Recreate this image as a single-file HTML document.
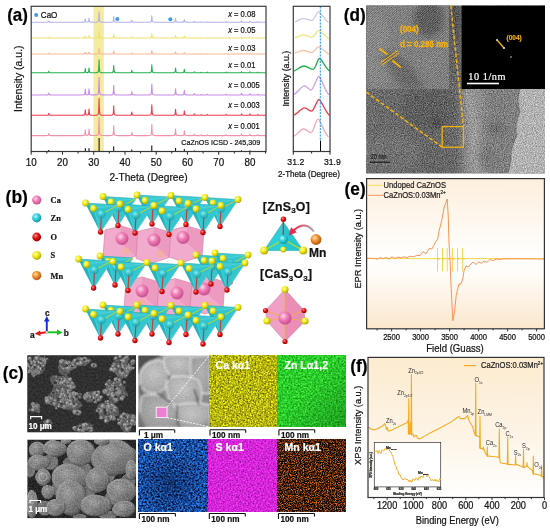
<!DOCTYPE html>
<html><head><meta charset="utf-8"><title>CaZnOS:Mn figure</title>
<style>html,body{margin:0;padding:0;background:#fff;}svg{display:block;} #w{width:550px;height:530px;}</style>
</head><body><div id="w">
<svg width="550" height="530" viewBox="0 0 550 530">
<rect width="550" height="530" fill="#fff"/>
<defs><radialGradient id="gS" cx="0.38" cy="0.35" r="0.7"><stop offset="0" stop-color="#ffffb0"/><stop offset="0.45" stop-color="#f0ec18"/><stop offset="1" stop-color="#a8a000"/></radialGradient><radialGradient id="gO" cx="0.38" cy="0.35" r="0.7"><stop offset="0" stop-color="#ff9090"/><stop offset="0.45" stop-color="#e81010"/><stop offset="1" stop-color="#900000"/></radialGradient><radialGradient id="gZn" cx="0.38" cy="0.35" r="0.7"><stop offset="0" stop-color="#b8f6fa"/><stop offset="0.45" stop-color="#2fd0dc"/><stop offset="1" stop-color="#10909c"/></radialGradient><radialGradient id="gCa" cx="0.38" cy="0.35" r="0.7"><stop offset="0" stop-color="#ffd8ea"/><stop offset="0.45" stop-color="#f07ab4"/><stop offset="1" stop-color="#c04a88"/></radialGradient><radialGradient id="gMn" cx="0.38" cy="0.35" r="0.7"><stop offset="0" stop-color="#ffe0b0"/><stop offset="0.45" stop-color="#f0902a"/><stop offset="1" stop-color="#a85010"/></radialGradient><linearGradient id="gArr" x1="1" y1="0" x2="0" y2="0"><stop offset="0" stop-color="#b0a0a8"/><stop offset="1" stop-color="#f02850"/></linearGradient><filter id="fCa" x="0" y="0" width="100%" height="100%" color-interpolation-filters="sRGB"><feTurbulence type="fractalNoise" baseFrequency="0.6" numOctaves="2" seed="3"/><feColorMatrix type="matrix" values="1.104 0 0 0 0.153 1.104 0 0 0 0.153 0.198 0 0 0 -0.047 0 0 0 0 1"/></filter><filter id="fZn" x="0" y="0" width="100%" height="100%" color-interpolation-filters="sRGB"><feTurbulence type="fractalNoise" baseFrequency="0.55" numOctaves="2" seed="5"/><feColorMatrix type="matrix" values="0.376 0 0 0 -0.016 0.675 0 0 0 0.462 0.376 0 0 0 -0.016 0 0 0 0 1"/></filter><filter id="fO" x="0" y="0" width="100%" height="100%" color-interpolation-filters="sRGB"><feTurbulence type="fractalNoise" baseFrequency="0.55" numOctaves="2" seed="7"/><feColorMatrix type="matrix" values="0.361 0 0 0 -0.086 1.046 0 0 0 -0.217 1.723 0 0 0 -0.236 0 0 0 0 1"/></filter><filter id="fS" x="0" y="0" width="100%" height="100%" color-interpolation-filters="sRGB"><feTurbulence type="fractalNoise" baseFrequency="0.6" numOctaves="2" seed="9"/><feColorMatrix type="matrix" values="0.708 0 0 0 0.478 0.298 0 0 0 0.000 0.648 0 0 0 0.522 0 0 0 0 1"/></filter><filter id="fMn" x="0" y="0" width="100%" height="100%" color-interpolation-filters="sRGB"><feTurbulence type="fractalNoise" baseFrequency="0.85" numOctaves="2" seed="11"/><feColorMatrix type="matrix" values="2.416 0 0 0 -0.914 1.274 0 0 0 -0.507 0.264 0 0 0 -0.108 0 0 0 0 1"/></filter><radialGradient id="gSem1" cx="0.4" cy="0.35" r="0.7"><stop offset="0" stop-color="#a8a8a8"/><stop offset="0.6" stop-color="#767676"/><stop offset="1" stop-color="#5a5a5a" stop-opacity="0.6"/></radialGradient><filter id="fSem" x="0" y="0" width="100%" height="100%" color-interpolation-filters="sRGB"><feTurbulence type="fractalNoise" baseFrequency="0.55" numOctaves="2" seed="21" result="n"/><feColorMatrix in="n" type="matrix" values="1 0 0 0 0 1 0 0 0 0 1 0 0 0 0 0 0 0 0 1" result="g"/><feComposite in="SourceGraphic" in2="g" operator="arithmetic" k1="0.9" k2="0.55" k3="0" k4="0"/></filter><filter id="fSem2" x="0" y="0" width="100%" height="100%" color-interpolation-filters="sRGB"><feTurbulence type="fractalNoise" baseFrequency="0.7" numOctaves="2" seed="23" result="n"/><feColorMatrix in="n" type="matrix" values="1 0 0 0 0 1 0 0 0 0 1 0 0 0 0 0 0 0 0 1" result="g"/><feComposite in="SourceGraphic" in2="g" operator="arithmetic" k1="0" k2="1" k3="0.25" k4="-0.125"/></filter><radialGradient id="gSem2" cx="0.5" cy="0.5" r="0.55" fx="0.35" fy="0.3"><stop offset="0" stop-color="#a2a2a2"/><stop offset="0.5" stop-color="#858585"/><stop offset="0.8" stop-color="#8e8e8e"/><stop offset="0.92" stop-color="#6a6a6a"/><stop offset="1" stop-color="#303030"/></radialGradient><radialGradient id="gSem3" cx="0.45" cy="0.4" r="0.7"><stop offset="0" stop-color="#cfcfcf"/><stop offset="0.8" stop-color="#a8a8a8"/><stop offset="1" stop-color="#7a7a7a"/></radialGradient><linearGradient id="ovZn" x1="0" y1="0" x2="1" y2="1"><stop offset="0.45" stop-color="#003000" stop-opacity="0"/><stop offset="1" stop-color="#003000" stop-opacity="0.3"/></linearGradient><radialGradient id="ovO" cx="0.45" cy="0.6" r="0.5"><stop offset="0" stop-color="#000820" stop-opacity="0.35"/><stop offset="1" stop-color="#000820" stop-opacity="0"/></radialGradient><radialGradient id="gSem2b" cx="0.5" cy="0.5" r="0.55" fx="0.4" fy="0.35"><stop offset="0" stop-color="#6a6a6a"/><stop offset="0.8" stop-color="#7a7a7a"/><stop offset="1" stop-color="#2a2a2a"/></radialGradient><linearGradient id="gShade" x1="0.2" y1="0.1" x2="0.9" y2="0.95"><stop offset="0" stop-color="#fff" stop-opacity="0.15"/><stop offset="0.45" stop-color="#000" stop-opacity="0"/><stop offset="1" stop-color="#000" stop-opacity="0.4"/></linearGradient><filter id="fBl1" x="-20%" y="-20%" width="140%" height="140%"><feGaussianBlur stdDeviation="0.8"/></filter><filter id="fSem3" x="0" y="0" width="100%" height="100%" color-interpolation-filters="sRGB"><feTurbulence type="fractalNoise" baseFrequency="0.7" numOctaves="2" seed="31" result="n"/><feColorMatrix in="n" type="matrix" values="1 0 0 0 0 1 0 0 0 0 1 0 0 0 0 0 0 0 0 1" result="g"/><feComposite in="SourceGraphic" in2="g" operator="arithmetic" k1="0" k2="1" k3="0.12" k4="-0.06"/></filter><radialGradient id="gS3a" cx="0.45" cy="0.4" r="0.65"><stop offset="0" stop-color="#c4c4c4"/><stop offset="0.75" stop-color="#ababab"/><stop offset="1" stop-color="#8e8e8e"/></radialGradient><radialGradient id="gS3b" cx="0.55" cy="0.45" r="0.7"><stop offset="0" stop-color="#b4b4b4"/><stop offset="0.75" stop-color="#9c9c9c"/><stop offset="1" stop-color="#828282"/></radialGradient><filter id="fBl3" x="-50%" y="-50%" width="200%" height="200%"><feGaussianBlur stdDeviation="3"/></filter><filter id="fTem" x="0" y="0" width="100%" height="100%" color-interpolation-filters="sRGB"><feTurbulence type="fractalNoise" baseFrequency="0.9" numOctaves="2" seed="4" result="n"/><feColorMatrix in="n" type="matrix" values="1 0 0 0 0 1 0 0 0 0 1 0 0 0 0 0 0 0 0 1" result="g"/><feComposite in="SourceGraphic" in2="g" operator="arithmetic" k1="0" k2="1" k3="0.55" k4="-0.275"/></filter><linearGradient id="gTemX" x1="0" y1="0" x2="1" y2="0"><stop offset="0" stop-color="#6c6c6c"/><stop offset="0.4" stop-color="#666666"/><stop offset="0.5" stop-color="#686868"/><stop offset="0.565" stop-color="#8a8a8a"/><stop offset="0.62" stop-color="#909090"/><stop offset="0.7" stop-color="#7e7e7e"/><stop offset="0.85" stop-color="#808080"/><stop offset="1" stop-color="#8a8a8a"/></linearGradient><linearGradient id="gTemStrip" x1="0" y1="0" x2="0" y2="1"><stop offset="0" stop-color="#505050"/><stop offset="0.5" stop-color="#5e5e5e"/><stop offset="1" stop-color="#6a6a6a"/></linearGradient><filter id="fTem2" x="0" y="0" width="100%" height="100%" color-interpolation-filters="sRGB"><feTurbulence type="fractalNoise" baseFrequency="0.8" numOctaves="2" seed="8" result="n"/><feColorMatrix in="n" type="matrix" values="1 0 0 0 0 1 0 0 0 0 1 0 0 0 0 0 0 0 0 1" result="g"/><feComposite in="SourceGraphic" in2="g" operator="arithmetic" k1="0" k2="1" k3="0.35" k4="-0.175"/></filter><pattern id="pFr" width="1.7" height="1.7" patternUnits="userSpaceOnUse" patternTransform="rotate(-42)"><rect width="1.7" height="0.85" fill="#404040"/><rect y="0.85" width="1.7" height="0.85" fill="#c0c0c0"/></pattern><linearGradient id="gEpr" x1="0" y1="0" x2="0" y2="1"><stop offset="0" stop-color="#fdefdc"/><stop offset="0.5" stop-color="#fffefc"/><stop offset="0.62" stop-color="#fffdfa"/><stop offset="1" stop-color="#fbe7cc"/></linearGradient><linearGradient id="gXps" x1="0" y1="0" x2="0" y2="1"><stop offset="0" stop-color="#fcebcf"/><stop offset="0.6" stop-color="#fdf5e8"/><stop offset="1" stop-color="#ffffff"/></linearGradient></defs>
<rect x="93.4" y="6.3" width="10.4" height="145.2" fill="#f6eaa0"/>
<path d="M31.2,22.2 33.7,22.2 36.2,22.2 38.7,22.2 41.2,22.2 43.7,22.2 46.2,22.2 47.2,22.2 47.4,22.2 47.7,22.1 48,22.1 48.2,22 48.5,21.6 48.7,21 49,21.6 49.2,22 49.5,22.1 49.7,22.1 50,22.2 50.2,22.2 51.2,22.2 53.7,22.2 56.2,22.2 58.7,22.2 61.2,22.2 63.7,22.2 66.2,22.2 68.7,22.2 71.2,22.2 73.7,22.2 76.2,22.2 78.7,22.2 81.2,22.2 83.7,22.1 83.8,22.1 84,22.1 84.3,22 84.5,21.8 84.8,21.5 85,20.5 85.3,18.8 85.5,20.5 85.8,21.5 86,21.8 86.2,21.9 86.3,22 86.5,22 86.8,22.1 87.5,22.1 87.8,22 88,21.9 88.3,21.8 88.5,21.4 88.7,20.7 88.8,20.3 89,18.4 89.3,20.3 89.5,21.4 89.8,21.8 90,22 90.3,22 90.5,22.1 91.2,22.1 93.7,22.2 96.2,22.1 97.6,21.9 97.8,21.8 98.1,21.6 98.3,21.1 98.6,20.1 98.7,19 98.8,16.9 99.1,11.7 99.3,16.9 99.6,20.1 99.8,21.1 100.1,21.6 100.3,21.8 100.6,21.9 101.2,22.1 103.7,22.2 106.2,22.2 108.7,22.2 111.2,22.1 112.2,22 112.5,22 112.7,21.8 112.9,21.6 113.2,21 113.5,19.3 113.7,16.3 113.9,19.3 114.2,21 114.5,21.6 114.7,21.8 114.9,22 115.2,22 116.2,22.1 118.7,22.2 121.2,22.2 123.7,22.2 126.2,22.2 128.7,22.2 130.3,22.1 130.6,22.1 130.8,22.1 131.1,22 131.2,21.9 131.3,21.8 131.6,21.2 131.8,20.2 132.1,21.2 132.3,21.8 132.6,22 132.8,22.1 133.1,22.1 133.3,22.1 133.7,22.2 136.2,22.2 138.7,22.2 141.2,22.2 143.7,22.2 146.2,22.2 148.7,22.2 150.3,22 150.6,21.9 150.8,21.8 151.1,21.5 151.2,21.3 151.3,20.9 151.6,18.9 151.8,15.7 152.1,18.9 152.3,20.9 152.6,21.5 152.8,21.8 153.1,21.9 153.3,22 153.7,22.1 156.2,22.2 158.7,22.2 161.2,22.2 163.7,22.2 166.2,22.2 168.7,22.2 171.2,22.2 173.7,22.1 174.1,22.1 174.3,22.1 174.6,22 174.8,21.8 175.1,21.4 175.3,20.3 175.6,18.4 175.8,20.3 176.1,21.4 176.2,21.7 176.3,21.8 176.6,22 176.8,22.1 177.1,22.1 178.7,22.2 181.2,22.2 182.8,22.1 183.1,22.1 183.3,22 183.6,21.9 183.7,21.8 183.8,21.6 184.1,20.8 184.3,19.5 184.6,20.8 184.8,21.6 185.1,21.9 185.3,22 185.6,22.1 185.8,22.1 186.2,22.1 188.7,22.2 191.2,22.2 192.8,22.2 193.1,22.2 193.3,22.1 193.6,22.1 193.7,22.1 193.8,22 194.1,21.8 194.3,21.4 194.6,21.8 194.8,22 195.1,22.1 195.3,22.1 195.6,22.2 195.8,22.2 196.2,22.2 198.7,22.2 199.7,22.2 199.9,22.2 200.2,22.2 200.4,22.2 200.7,22.1 200.9,22 201.2,21.8 201.4,22 201.7,22.1 201.9,22.2 202.2,22.2 202.4,22.2 202.7,22.2 203.7,22.2 205.9,22.2 206.2,22.2 206.4,22.2 206.7,22.1 206.9,22.1 207.2,21.9 207.5,21.7 207.7,21.9 207.9,22.1 208.2,22.1 208.4,22.2 208.7,22.2 208.9,22.2 211.2,22.2 213.7,22.2 216.2,22.2 218.7,22.2 221.2,22.2 223.7,22.2 224.7,22.2 224.9,22.2 225.2,22.2 225.4,22.1 225.7,22.1 225.9,21.9 226.2,21.7 226.4,21.9 226.7,22.1 226.9,22.1 227.2,22.2 227.4,22.2 227.7,22.2 228.7,22.2 231.2,22.2 233.7,22.2 236.2,22.2 238.7,22.2 240,22.2 240.3,22.2 240.5,22.1 240.8,22.1 241,22 241.2,21.8 241.3,21.7 241.5,21.3 241.8,21.7 242,22 242.3,22.1 242.5,22.1 242.8,22.2 243,22.2 243.7,22.2 246.2,22.2 248.4,22.2 248.7,22.2 249,22.1 249.2,22.1 249.4,22 249.7,21.8 249.9,21.4 250.2,21.8 250.4,22 250.7,22.1 250.9,22.1 251.2,22.2 251.4,22.2 253.7,22.2 256.2,22.2 256.3,22.2 256.5,22.2 256.8,22.2 257,22.1 257.3,22.1 257.5,21.9 257.8,21.7 258,21.9 258.3,22.1 258.5,22.1 258.7,22.2 258.8,22.2 259,22.2 259.3,22.2 261.2,22.2 263.7,22.2 265.6,22.2" fill="none" stroke="#b2b2ea" stroke-width="1.1" stroke-linejoin="round"/>
<path d="M31.2,38 33.7,38 36.2,38 38.7,38 41.2,38 43.7,38 46.2,38 47.2,38 47.4,38 47.7,38 48,37.9 48.2,37.8 48.5,37.6 48.7,37.2 49,37.6 49.2,37.8 49.5,37.9 49.7,38 50,38 50.2,38 51.2,38 53.7,38 56.2,38 58.7,38 61.2,38 63.7,38 66.2,38 68.7,38 71.2,38 73.7,38 76.2,38 78.7,38 81.2,38 83.7,37.9 83.8,37.9 84,37.9 84.3,37.9 84.5,37.8 84.8,37.5 85,36.9 85.3,35.7 85.5,36.9 85.8,37.5 86,37.8 86.2,37.8 86.3,37.8 86.5,37.9 86.8,37.9 87.5,37.9 87.8,37.9 88,37.8 88.3,37.7 88.5,37.5 88.7,37 88.8,36.7 89,35.5 89.3,36.7 89.5,37.5 89.8,37.7 90,37.8 90.3,37.9 90.5,37.9 91.2,38 93.7,38 96.2,37.9 97.6,37.8 97.8,37.7 98.1,37.6 98.3,37.3 98.6,36.6 98.7,35.8 98.8,34.5 99.1,31 99.3,34.5 99.6,36.6 99.8,37.3 100.1,37.6 100.3,37.7 100.6,37.8 101.2,37.9 103.7,38 106.2,38 108.7,38 111.2,38 112.2,37.9 112.5,37.8 112.7,37.8 112.9,37.6 113.2,37.2 113.5,36 113.7,34.1 113.9,36 114.2,37.2 114.5,37.6 114.7,37.8 114.9,37.8 115.2,37.9 116.2,38 118.7,38 121.2,38 123.7,38 126.2,38 128.7,38 130.3,38 130.6,37.9 130.8,37.9 131.1,37.9 131.2,37.8 131.3,37.7 131.6,37.3 131.8,36.7 132.1,37.3 132.3,37.7 132.6,37.9 132.8,37.9 133.1,37.9 133.3,38 133.7,38 136.2,38 138.7,38 141.2,38 143.7,38 146.2,38 148.7,38 150.3,37.9 150.6,37.8 150.8,37.7 151.1,37.6 151.2,37.4 151.3,37.1 151.6,35.8 151.8,33.7 152.1,35.8 152.3,37.1 152.6,37.6 152.8,37.7 153.1,37.8 153.3,37.9 153.7,37.9 156.2,38 158.7,38 161.2,38 163.7,38 166.2,38 168.7,38 171.2,38 173.7,38 174.1,37.9 174.3,37.9 174.6,37.8 174.8,37.7 175.1,37.5 175.3,36.7 175.6,35.5 175.8,36.7 176.1,37.5 176.2,37.6 176.3,37.7 176.6,37.8 176.8,37.9 177.1,37.9 178.7,38 181.2,38 182.8,37.9 183.1,37.9 183.3,37.9 183.6,37.8 183.7,37.7 183.8,37.6 184.1,37.1 184.3,36.2 184.6,37.1 184.8,37.6 185.1,37.8 185.3,37.9 185.6,37.9 185.8,37.9 186.2,38 188.7,38 191.2,38 192.8,38 193.1,38 193.3,38 193.6,37.9 193.7,37.9 193.8,37.9 194.1,37.7 194.3,37.4 194.6,37.7 194.8,37.9 195.1,37.9 195.3,38 195.6,38 195.8,38 196.2,38 198.7,38 199.7,38 199.9,38 200.2,38 200.4,38 200.7,37.9 200.9,37.9 201.2,37.7 201.4,37.9 201.7,37.9 201.9,38 202.2,38 202.4,38 202.7,38 203.7,38 205.9,38 206.2,38 206.4,38 206.7,38 206.9,37.9 207.2,37.8 207.5,37.6 207.7,37.8 207.9,37.9 208.2,38 208.4,38 208.7,38 208.9,38 211.2,38 213.7,38 216.2,38 218.7,38 221.2,38 223.7,38 224.7,38 224.9,38 225.2,38 225.4,38 225.7,37.9 225.9,37.8 226.2,37.6 226.4,37.8 226.7,37.9 226.9,38 227.2,38 227.4,38 227.7,38 228.7,38 231.2,38 233.7,38 236.2,38 238.7,38 240,38 240.3,38 240.5,38 240.8,37.9 241,37.9 241.2,37.8 241.3,37.7 241.5,37.4 241.8,37.7 242,37.9 242.3,37.9 242.5,38 242.8,38 243,38 243.7,38 246.2,38 248.4,38 248.7,38 249,38 249.2,37.9 249.4,37.9 249.7,37.7 249.9,37.4 250.2,37.7 250.4,37.9 250.7,37.9 250.9,38 251.2,38 251.4,38 253.7,38 256.2,38 256.3,38 256.5,38 256.8,38 257,38 257.3,37.9 257.5,37.8 257.8,37.6 258,37.8 258.3,37.9 258.5,38 258.7,38 258.8,38 259,38 259.3,38 261.2,38 263.7,38 265.6,38" fill="none" stroke="#ece46a" stroke-width="1.1" stroke-linejoin="round"/>
<path d="M31.2,54 33.7,54 36.2,54 38.7,54 41.2,54 43.7,54 46.2,54 47.2,54 47.4,54 47.7,54 48,53.9 48.2,53.9 48.5,53.7 48.7,53.4 49,53.7 49.2,53.9 49.5,53.9 49.7,54 50,54 50.2,54 51.2,54 53.7,54 56.2,54 58.7,54 61.2,54 63.7,54 66.2,54 68.7,54 71.2,54 73.7,54 76.2,54 78.7,54 81.2,54 83.7,53.9 83.8,53.9 84,53.9 84.3,53.9 84.5,53.8 84.8,53.6 85,53.1 85.3,52.2 85.5,53.1 85.8,53.6 86,53.8 86.2,53.9 86.3,53.9 86.5,53.9 86.8,53.9 87.5,53.9 87.8,53.9 88,53.9 88.3,53.8 88.5,53.6 88.7,53.2 88.8,53 89,52 89.3,53 89.5,53.6 89.8,53.8 90,53.9 90.3,53.9 90.5,53.9 91.2,54 93.7,54 96.2,54 97.6,53.8 97.8,53.8 98.1,53.7 98.3,53.4 98.6,52.9 98.7,52.3 98.8,51.2 99.1,48.5 99.3,51.2 99.6,52.9 99.8,53.4 100.1,53.7 100.3,53.8 100.6,53.8 101.2,53.9 103.7,54 106.2,54 108.7,54 111.2,54 112.2,53.9 112.5,53.9 112.7,53.8 112.9,53.7 113.2,53.4 113.5,52.5 113.7,50.9 113.9,52.5 114.2,53.4 114.5,53.7 114.7,53.8 114.9,53.9 115.2,53.9 116.2,54 118.7,54 121.2,54 123.7,54 126.2,54 128.7,54 130.3,54 130.6,54 130.8,53.9 131.1,53.9 131.2,53.9 131.3,53.8 131.6,53.5 131.8,53 132.1,53.5 132.3,53.8 132.6,53.9 132.8,53.9 133.1,54 133.3,54 133.7,54 136.2,54 138.7,54 141.2,54 143.7,54 146.2,54 148.7,54 150.3,53.9 150.6,53.9 150.8,53.8 151.1,53.7 151.2,53.5 151.3,53.3 151.6,52.3 151.8,50.6 152.1,52.3 152.3,53.3 152.6,53.7 152.8,53.8 153.1,53.9 153.3,53.9 153.7,53.9 156.2,54 158.7,54 161.2,54 163.7,54 166.2,54 168.7,54 171.2,54 173.7,54 174.1,53.9 174.3,53.9 174.6,53.9 174.8,53.8 175.1,53.6 175.3,53 175.6,52 175.8,53 176.1,53.6 176.2,53.7 176.3,53.8 176.6,53.9 176.8,53.9 177.1,53.9 178.7,54 181.2,54 182.8,54 183.1,53.9 183.3,53.9 183.6,53.9 183.7,53.8 183.8,53.7 184.1,53.3 184.3,52.6 184.6,53.3 184.8,53.7 185.1,53.9 185.3,53.9 185.6,53.9 185.8,54 186.2,54 188.7,54 191.2,54 192.8,54 193.1,54 193.3,54 193.6,54 193.7,53.9 193.8,53.9 194.1,53.8 194.3,53.6 194.6,53.8 194.8,53.9 195.1,54 195.3,54 195.6,54 195.8,54 196.2,54 198.7,54 199.7,54 199.9,54 200.2,54 200.4,54 200.7,54 200.9,53.9 201.2,53.8 201.4,53.9 201.7,54 201.9,54 202.2,54 202.4,54 202.7,54 203.7,54 205.9,54 206.2,54 206.4,54 206.7,54 206.9,53.9 207.2,53.9 207.5,53.7 207.7,53.9 207.9,53.9 208.2,54 208.4,54 208.7,54 208.9,54 211.2,54 213.7,54 216.2,54 218.7,54 221.2,54 223.7,54 224.7,54 224.9,54 225.2,54 225.4,54 225.7,53.9 225.9,53.9 226.2,53.7 226.4,53.9 226.7,53.9 226.9,54 227.2,54 227.4,54 227.7,54 228.7,54 231.2,54 233.7,54 236.2,54 238.7,54 240,54 240.3,54 240.5,54 240.8,53.9 241,53.9 241.2,53.8 241.3,53.8 241.5,53.5 241.8,53.8 242,53.9 242.3,53.9 242.5,54 242.8,54 243,54 243.7,54 246.2,54 248.4,54 248.7,54 249,54 249.2,54 249.4,53.9 249.7,53.8 249.9,53.6 250.2,53.8 250.4,53.9 250.7,54 250.9,54 251.2,54 251.4,54 253.7,54 256.2,54 256.3,54 256.5,54 256.8,54 257,54 257.3,53.9 257.5,53.9 257.8,53.7 258,53.9 258.3,53.9 258.5,54 258.7,54 258.8,54 259,54 259.3,54 261.2,54 263.7,54 265.6,54" fill="none" stroke="#f3b896" stroke-width="1.1" stroke-linejoin="round"/>
<path d="M31.2,72.8 33.7,72.8 36.2,72.8 38.7,72.8 41.2,72.8 43.7,72.8 46.2,72.8 47.2,72.8 47.4,72.7 47.7,72.7 48,72.7 48.2,72.5 48.5,72.1 48.7,71.4 49,72.1 49.2,72.5 49.5,72.7 49.7,72.7 50,72.7 50.2,72.8 51.2,72.8 53.7,72.8 56.2,72.8 58.7,72.8 61.2,72.8 63.7,72.8 66.2,72.8 68.7,72.8 71.2,72.8 73.7,72.8 76.2,72.8 78.7,72.8 81.2,72.8 83.7,72.7 83.8,72.7 84,72.6 84.3,72.5 84.5,72.4 84.8,71.9 85,70.7 85.3,68.6 85.5,70.7 85.8,71.9 86,72.3 86.2,72.5 86.3,72.5 86.5,72.6 86.8,72.6 87.5,72.6 87.8,72.6 88,72.5 88.3,72.3 88.5,71.8 88.7,70.9 88.8,70.4 89,68.1 89.3,70.4 89.5,71.8 89.8,72.3 90,72.5 90.3,72.6 90.5,72.7 91.2,72.7 93.7,72.8 96.2,72.7 97.6,72.4 97.8,72.3 98.1,72 98.3,71.5 98.6,70.2 98.7,68.8 98.8,66.3 99.1,59.8 99.3,66.3 99.6,70.2 99.8,71.5 100.1,72 100.3,72.3 100.6,72.4 101.2,72.6 103.7,72.8 106.2,72.8 108.7,72.8 111.2,72.7 112.2,72.6 112.5,72.5 112.7,72.4 112.9,72.1 113.2,71.3 113.5,69.2 113.7,65.5 113.9,69.2 114.2,71.3 114.5,72.1 114.7,72.4 114.9,72.5 115.2,72.6 116.2,72.7 118.7,72.8 121.2,72.8 123.7,72.8 126.2,72.8 128.7,72.8 130.3,72.7 130.6,72.7 130.8,72.7 131.1,72.5 131.2,72.5 131.3,72.3 131.6,71.6 131.8,70.3 132.1,71.6 132.3,72.3 132.6,72.5 132.8,72.7 133.1,72.7 133.3,72.7 133.7,72.8 136.2,72.8 138.7,72.8 141.2,72.8 143.7,72.8 146.2,72.8 148.7,72.7 150.3,72.6 150.6,72.5 150.8,72.3 151.1,72 151.2,71.7 151.3,71.2 151.6,68.8 151.8,64.7 152.1,68.8 152.3,71.2 152.6,72 152.8,72.3 153.1,72.5 153.3,72.6 153.7,72.7 156.2,72.8 158.7,72.8 161.2,72.8 163.7,72.8 166.2,72.8 168.7,72.8 171.2,72.8 173.7,72.7 174.1,72.7 174.3,72.6 174.6,72.5 174.8,72.3 175.1,71.9 175.3,70.5 175.6,68.1 175.8,70.5 176.1,71.9 176.2,72.1 176.3,72.3 176.6,72.5 176.8,72.6 177.1,72.7 178.7,72.8 181.2,72.8 182.8,72.7 183.1,72.7 183.3,72.6 183.6,72.5 183.7,72.3 183.8,72.1 184.1,71.1 184.3,69.4 184.6,71.1 184.8,72.1 185.1,72.5 185.3,72.6 185.6,72.7 185.8,72.7 186.2,72.7 188.7,72.8 191.2,72.8 192.8,72.8 193.1,72.8 193.3,72.7 193.6,72.7 193.7,72.7 193.8,72.6 194.1,72.3 194.3,71.8 194.6,72.3 194.8,72.6 195.1,72.7 195.3,72.7 195.6,72.8 195.8,72.8 196.2,72.8 198.7,72.8 199.7,72.8 199.9,72.8 200.2,72.8 200.4,72.7 200.7,72.7 200.9,72.5 201.2,72.3 201.4,72.5 201.7,72.7 201.9,72.7 202.2,72.8 202.4,72.8 202.7,72.8 203.7,72.8 205.9,72.8 206.2,72.8 206.4,72.8 206.7,72.7 206.9,72.7 207.2,72.5 207.5,72.1 207.7,72.5 207.9,72.7 208.2,72.7 208.4,72.8 208.7,72.8 208.9,72.8 211.2,72.8 213.7,72.8 216.2,72.8 218.7,72.8 221.2,72.8 223.7,72.8 224.7,72.8 224.9,72.8 225.2,72.8 225.4,72.7 225.7,72.7 225.9,72.5 226.2,72.1 226.4,72.5 226.7,72.7 226.9,72.7 227.2,72.8 227.4,72.8 227.7,72.8 228.7,72.8 231.2,72.8 233.7,72.8 236.2,72.8 238.7,72.8 240,72.8 240.3,72.8 240.5,72.7 240.8,72.7 241,72.6 241.2,72.3 241.3,72.2 241.5,71.6 241.8,72.2 242,72.6 242.3,72.7 242.5,72.7 242.8,72.8 243,72.8 243.7,72.8 246.2,72.8 248.4,72.8 248.7,72.8 249,72.7 249.2,72.7 249.4,72.6 249.7,72.3 249.9,71.8 250.2,72.3 250.4,72.6 250.7,72.7 250.9,72.7 251.2,72.8 251.4,72.8 253.7,72.8 256.2,72.8 256.3,72.8 256.5,72.8 256.8,72.8 257,72.7 257.3,72.7 257.5,72.5 257.8,72.1 258,72.5 258.3,72.7 258.5,72.7 258.7,72.8 258.8,72.8 259,72.8 259.3,72.8 261.2,72.8 263.7,72.8 265.6,72.8" fill="none" stroke="#22b04e" stroke-width="1.1" stroke-linejoin="round"/>
<path d="M31.2,95 33.7,95 36.2,95 38.7,95 41.2,95 43.7,95 46.2,95 47.2,94.9 47.4,94.9 47.7,94.9 48,94.8 48.2,94.6 48.5,94 48.7,93.1 49,94 49.2,94.6 49.5,94.8 49.7,94.9 50,94.9 50.2,94.9 51.2,95 53.7,95 56.2,95 58.7,95 61.2,95 63.7,95 66.2,95 68.7,95 71.2,95 73.7,95 76.2,95 78.7,95 81.2,95 83.7,94.8 83.8,94.8 84,94.8 84.3,94.6 84.5,94.4 84.8,93.9 85,92.2 85.3,89.4 85.5,92.2 85.8,93.8 86,94.4 86.2,94.6 86.3,94.6 86.5,94.7 86.8,94.8 87.5,94.8 87.8,94.7 88,94.6 88.3,94.3 88.5,93.7 88.7,92.5 88.8,91.8 89,88.7 89.3,91.8 89.5,93.7 89.8,94.3 90,94.6 90.3,94.7 90.5,94.8 91.2,94.9 93.7,94.9 96.2,94.9 97.6,94.5 97.8,94.3 98.1,94 98.3,93.2 98.6,91.5 98.7,89.6 98.8,86.2 99.1,77.5 99.3,86.2 99.6,91.5 99.8,93.2 100.1,94 100.3,94.3 100.6,94.5 101.2,94.8 103.7,94.9 106.2,95 108.7,95 111.2,94.9 112.2,94.7 112.5,94.6 112.7,94.4 112.9,94 113.2,93 113.5,90.1 113.7,85.2 113.9,90.1 114.2,93 114.5,94 114.7,94.4 114.9,94.6 115.2,94.7 116.2,94.9 118.7,95 121.2,95 123.7,95 126.2,95 128.7,95 130.3,94.9 130.6,94.9 130.8,94.8 131.1,94.7 131.2,94.5 131.3,94.3 131.6,93.3 131.8,91.7 132.1,93.3 132.3,94.3 132.6,94.7 132.8,94.8 133.1,94.9 133.3,94.9 133.7,94.9 136.2,95 138.7,95 141.2,95 143.7,95 146.2,95 148.7,94.9 150.3,94.7 150.6,94.6 150.8,94.4 151.1,93.9 151.2,93.5 151.3,92.8 151.6,89.6 151.8,84.1 152.1,89.6 152.3,92.8 152.6,93.9 152.8,94.4 153.1,94.6 153.3,94.7 153.7,94.8 156.2,95 158.7,95 161.2,95 163.7,95 166.2,95 168.7,95 171.2,95 173.7,94.9 174.1,94.8 174.3,94.8 174.6,94.6 174.8,94.4 175.1,93.7 175.3,91.8 175.6,88.7 175.8,91.8 176.1,93.7 176.2,94.1 176.3,94.4 176.6,94.6 176.8,94.8 177.1,94.8 178.7,94.9 181.2,95 182.8,94.9 183.1,94.8 183.3,94.7 183.6,94.5 183.7,94.4 183.8,94.1 184.1,92.7 184.3,90.4 184.6,92.7 184.8,94.1 185.1,94.5 185.3,94.7 185.6,94.8 185.8,94.9 186.2,94.9 188.7,95 191.2,95 192.8,95 193.1,94.9 193.3,94.9 193.6,94.9 193.7,94.8 193.8,94.7 194.1,94.3 194.3,93.6 194.6,94.3 194.8,94.7 195.1,94.9 195.3,94.9 195.6,94.9 195.8,95 196.2,95 198.7,95 199.7,95 199.9,95 200.2,95 200.4,94.9 200.7,94.9 200.9,94.6 201.2,94.3 201.4,94.6 201.7,94.9 201.9,94.9 202.2,95 202.4,95 202.7,95 203.7,95 205.9,95 206.2,95 206.4,94.9 206.7,94.9 206.9,94.8 207.2,94.6 207.5,94.1 207.7,94.6 207.9,94.8 208.2,94.9 208.4,94.9 208.7,95 208.9,95 211.2,95 213.7,95 216.2,95 218.7,95 221.2,95 223.7,95 224.7,95 224.9,95 225.2,94.9 225.4,94.9 225.7,94.8 225.9,94.6 226.2,94.1 226.4,94.6 226.7,94.8 226.9,94.9 227.2,94.9 227.4,95 227.7,95 228.7,95 231.2,95 233.7,95 236.2,95 238.7,95 240,95 240.3,94.9 240.5,94.9 240.8,94.8 241,94.7 241.2,94.4 241.3,94.2 241.5,93.4 241.8,94.2 242,94.7 242.3,94.8 242.5,94.9 242.8,94.9 243,95 243.7,95 246.2,95 248.4,95 248.7,94.9 249,94.9 249.2,94.9 249.4,94.7 249.7,94.3 249.9,93.6 250.2,94.3 250.4,94.7 250.7,94.9 250.9,94.9 251.2,94.9 251.4,95 253.7,95 256.2,95 256.3,95 256.5,95 256.8,94.9 257,94.9 257.3,94.8 257.5,94.6 257.8,94.1 258,94.6 258.3,94.8 258.5,94.9 258.7,94.9 258.8,94.9 259,95 259.3,95 261.2,95 263.7,95 265.6,95" fill="none" stroke="#c98ae8" stroke-width="1.1" stroke-linejoin="round"/>
<path d="M31.2,115.3 33.7,115.3 36.2,115.3 38.7,115.3 41.2,115.3 43.7,115.3 46.2,115.3 47.2,115.2 47.4,115.2 47.7,115.2 48,115.1 48.2,114.9 48.5,114.4 48.7,113.4 49,114.4 49.2,114.9 49.5,115.1 49.7,115.2 50,115.2 50.2,115.2 51.2,115.3 53.7,115.3 56.2,115.3 58.7,115.3 61.2,115.3 63.7,115.3 66.2,115.3 68.7,115.3 71.2,115.3 73.7,115.3 76.2,115.3 78.7,115.3 81.2,115.3 83.7,115.1 83.8,115.1 84,115.1 84.3,115 84.5,114.7 84.8,114.2 85,112.5 85.3,109.8 85.5,112.5 85.8,114.2 86,114.7 86.2,114.9 86.3,114.9 86.5,115 86.8,115.1 87.5,115.1 87.8,115 88,114.9 88.3,114.6 88.5,114 88.7,112.9 88.8,112.2 89,109.1 89.3,112.2 89.5,114 89.8,114.7 90,114.9 90.3,115 90.5,115.1 91.2,115.2 93.7,115.2 96.2,115.2 97.6,114.8 97.8,114.6 98.1,114.3 98.3,113.6 98.6,111.9 98.7,110.1 98.8,106.8 99.1,98.3 99.3,106.8 99.6,111.9 99.8,113.6 100.1,114.3 100.3,114.6 100.6,114.8 101.2,115.1 103.7,115.2 106.2,115.3 108.7,115.3 111.2,115.2 112.2,115 112.5,114.9 112.7,114.7 112.9,114.3 113.2,113.4 113.5,110.5 113.7,105.8 113.9,110.5 114.2,113.4 114.5,114.3 114.7,114.7 114.9,114.9 115.2,115 116.2,115.2 118.7,115.3 121.2,115.3 123.7,115.3 126.2,115.3 128.7,115.3 130.3,115.2 130.6,115.2 130.8,115.1 131.1,115 131.2,114.8 131.3,114.6 131.6,113.7 131.8,112.1 132.1,113.7 132.3,114.6 132.6,115 132.8,115.1 133.1,115.2 133.3,115.2 133.7,115.2 136.2,115.3 138.7,115.3 141.2,115.3 143.7,115.3 146.2,115.3 148.7,115.2 150.3,115 150.6,114.9 150.8,114.7 151.1,114.2 151.2,113.8 151.3,113.2 151.6,110 151.8,104.8 152.1,110 152.3,113.2 152.6,114.2 152.8,114.7 153.1,114.9 153.3,115 153.7,115.1 156.2,115.3 158.7,115.3 161.2,115.3 163.7,115.3 166.2,115.3 168.7,115.3 171.2,115.3 173.7,115.2 174.1,115.1 174.3,115.1 174.6,114.9 174.8,114.7 175.1,114.1 175.3,112.2 175.6,109.2 175.8,112.2 176.1,114.1 176.2,114.4 176.3,114.7 176.6,114.9 176.8,115.1 177.1,115.1 178.7,115.3 181.2,115.3 182.8,115.2 183.1,115.1 183.3,115 183.6,114.8 183.7,114.7 183.8,114.4 184.1,113.1 184.3,110.9 184.6,113.1 184.8,114.4 185.1,114.9 185.3,115 185.6,115.1 185.8,115.2 186.2,115.2 188.7,115.3 191.2,115.3 192.8,115.3 193.1,115.2 193.3,115.2 193.6,115.2 193.7,115.1 193.8,115 194.1,114.6 194.3,113.9 194.6,114.6 194.8,115 195.1,115.2 195.3,115.2 195.6,115.2 195.8,115.3 196.2,115.3 198.7,115.3 199.7,115.3 199.9,115.3 200.2,115.3 200.4,115.2 200.7,115.2 200.9,115 201.2,114.6 201.4,115 201.7,115.2 201.9,115.2 202.2,115.3 202.4,115.3 202.7,115.3 203.7,115.3 205.9,115.3 206.2,115.3 206.4,115.2 206.7,115.2 206.9,115.1 207.2,114.9 207.5,114.4 207.7,114.9 207.9,115.1 208.2,115.2 208.4,115.2 208.7,115.3 208.9,115.3 211.2,115.3 213.7,115.3 216.2,115.3 218.7,115.3 221.2,115.3 223.7,115.3 224.7,115.3 224.9,115.3 225.2,115.2 225.4,115.2 225.7,115.1 225.9,114.9 226.2,114.4 226.4,114.9 226.7,115.1 226.9,115.2 227.2,115.2 227.4,115.3 227.7,115.3 228.7,115.3 231.2,115.3 233.7,115.3 236.2,115.3 238.7,115.3 240,115.3 240.3,115.2 240.5,115.2 240.8,115.1 241,115 241.2,114.7 241.3,114.5 241.5,113.8 241.8,114.5 242,115 242.3,115.1 242.5,115.2 242.8,115.2 243,115.3 243.7,115.3 246.2,115.3 248.4,115.3 248.7,115.2 249,115.2 249.2,115.2 249.4,115 249.7,114.6 249.9,113.9 250.2,114.6 250.4,115 250.7,115.2 250.9,115.2 251.2,115.2 251.4,115.3 253.7,115.3 256.2,115.3 256.3,115.3 256.5,115.3 256.8,115.2 257,115.2 257.3,115.1 257.5,114.9 257.8,114.4 258,114.9 258.3,115.1 258.5,115.2 258.7,115.2 258.8,115.2 259,115.3 259.3,115.3 261.2,115.3 263.7,115.3 265.6,115.3" fill="none" stroke="#ee3b4c" stroke-width="1.1" stroke-linejoin="round"/>
<path d="M31.2,135.6 33.7,135.6 36.2,135.6 38.7,135.6 41.2,135.6 43.7,135.6 46.2,135.6 47.2,135.5 47.4,135.5 47.7,135.5 48,135.4 48.2,135.2 48.5,134.6 48.7,133.6 49,134.6 49.2,135.2 49.5,135.4 49.7,135.5 50,135.5 50.2,135.5 51.2,135.6 53.7,135.6 56.2,135.6 58.7,135.6 61.2,135.6 63.7,135.6 66.2,135.6 68.7,135.6 71.2,135.6 73.7,135.6 76.2,135.6 78.7,135.6 81.2,135.6 83.7,135.4 83.8,135.4 84,135.4 84.3,135.2 84.5,135 84.8,134.4 85,132.7 85.3,129.8 85.5,132.7 85.8,134.4 86,135 86.2,135.2 86.3,135.2 86.5,135.3 86.8,135.4 87.5,135.3 87.8,135.3 88,135.2 88.3,134.9 88.5,134.3 88.7,133 88.8,132.3 89,129.1 89.3,132.3 89.5,134.3 89.8,134.9 90,135.2 90.3,135.3 90.5,135.4 91.2,135.5 93.7,135.5 96.2,135.5 97.6,135.1 97.8,134.9 98.1,134.5 98.3,133.8 98.6,132 98.7,130.1 98.8,126.6 99.1,117.6 99.3,126.6 99.6,132 99.8,133.8 100.1,134.5 100.3,134.9 100.6,135.1 101.2,135.3 103.7,135.5 106.2,135.6 108.7,135.6 111.2,135.5 112.2,135.3 112.5,135.2 112.7,135 112.9,134.6 113.2,133.6 113.5,130.6 113.7,125.5 113.9,130.6 114.2,133.6 114.5,134.6 114.7,135 114.9,135.2 115.2,135.3 116.2,135.5 118.7,135.6 121.2,135.6 123.7,135.6 126.2,135.6 128.7,135.6 130.3,135.5 130.6,135.5 130.8,135.4 131.1,135.3 131.2,135.1 131.3,134.9 131.6,133.9 131.8,132.2 132.1,133.9 132.3,134.9 132.6,135.3 132.8,135.4 133.1,135.5 133.3,135.5 133.7,135.5 136.2,135.6 138.7,135.6 141.2,135.6 143.7,135.6 146.2,135.6 148.7,135.5 150.3,135.3 150.6,135.2 150.8,134.9 151.1,134.5 151.2,134.1 151.3,133.4 151.6,130 151.8,124.4 152.1,130 152.3,133.4 152.6,134.5 152.8,134.9 153.1,135.2 153.3,135.3 153.7,135.4 156.2,135.6 158.7,135.6 161.2,135.6 163.7,135.6 166.2,135.6 168.7,135.6 171.2,135.6 173.7,135.5 174.1,135.4 174.3,135.3 174.6,135.2 174.8,134.9 175.1,134.3 175.3,132.4 175.6,129.1 175.8,132.4 176.1,134.3 176.2,134.7 176.3,134.9 176.6,135.2 176.8,135.3 177.1,135.4 178.7,135.5 181.2,135.6 182.8,135.5 183.1,135.4 183.3,135.3 183.6,135.1 183.7,134.9 183.8,134.7 184.1,133.3 184.3,130.9 184.6,133.3 184.8,134.7 185.1,135.1 185.3,135.3 185.6,135.4 185.8,135.5 186.2,135.5 188.7,135.6 191.2,135.6 192.8,135.6 193.1,135.5 193.3,135.5 193.6,135.4 193.7,135.4 193.8,135.3 194.1,134.9 194.3,134.2 194.6,134.9 194.8,135.3 195.1,135.4 195.3,135.5 195.6,135.5 195.8,135.6 196.2,135.6 198.7,135.6 199.7,135.6 199.9,135.6 200.2,135.6 200.4,135.5 200.7,135.5 200.9,135.2 201.2,134.9 201.4,135.2 201.7,135.5 201.9,135.5 202.2,135.6 202.4,135.6 202.7,135.6 203.7,135.6 205.9,135.6 206.2,135.6 206.4,135.5 206.7,135.5 206.9,135.4 207.2,135.1 207.5,134.7 207.7,135.1 207.9,135.4 208.2,135.5 208.4,135.5 208.7,135.6 208.9,135.6 211.2,135.6 213.7,135.6 216.2,135.6 218.7,135.6 221.2,135.6 223.7,135.6 224.7,135.6 224.9,135.6 225.2,135.5 225.4,135.5 225.7,135.4 225.9,135.1 226.2,134.7 226.4,135.1 226.7,135.4 226.9,135.5 227.2,135.5 227.4,135.6 227.7,135.6 228.7,135.6 231.2,135.6 233.7,135.6 236.2,135.6 238.7,135.6 240,135.6 240.3,135.5 240.5,135.5 240.8,135.4 241,135.3 241.2,135 241.3,134.8 241.5,134 241.8,134.8 242,135.3 242.3,135.4 242.5,135.5 242.8,135.5 243,135.6 243.7,135.6 246.2,135.6 248.4,135.6 248.7,135.5 249,135.5 249.2,135.5 249.4,135.3 249.7,134.9 249.9,134.2 250.2,134.9 250.4,135.3 250.7,135.5 250.9,135.5 251.2,135.5 251.4,135.6 253.7,135.6 256.2,135.6 256.3,135.6 256.5,135.6 256.8,135.5 257,135.5 257.3,135.4 257.5,135.1 257.8,134.7 258,135.1 258.3,135.4 258.5,135.5 258.7,135.5 258.8,135.5 259,135.6 259.3,135.6 261.2,135.6 263.7,135.6 265.6,135.6" fill="none" stroke="#f391aa" stroke-width="1.1" stroke-linejoin="round"/>
<path d="M48.7,151.5V150M85.3,151.5V148.2M89,151.5V148.2M99.1,151.5V138M113.7,151.5V146.3M131.8,151.5V149.5M151.8,151.5V145.5M175.6,151.5V148M184.3,151.5V149M194.3,151.5V150.5M241.5,151.5V150.3M249.9,151.5V150.5" stroke="#000" stroke-width="1"/>
<rect x="31.2" y="6.3" width="234.8" height="145.2" fill="none" stroke="#3a3a3a" stroke-width="1.2"/>
<path d="M31.2,151.5v3.2M46.8,151.5v2M62.5,151.5v3.2M78.1,151.5v2M93.7,151.5v3.2M109.3,151.5v2M125,151.5v3.2M140.6,151.5v2M156.2,151.5v3.2M171.8,151.5v2M187.4,151.5v3.2M203.1,151.5v2M218.7,151.5v3.2M234.3,151.5v2M249.9,151.5v3.2M265.6,151.5v2" stroke="#222" stroke-width="1"/>
<text x="31.2" y="166.1" text-anchor="middle" style="font-family:'Liberation Sans',Arial,sans-serif;font-size:9.8px" fill="#111" stroke="#111" stroke-width="0.2" transform="matrix(1,0,0,1.1,0,-16.61)">10</text>
<text x="62.5" y="166.1" text-anchor="middle" style="font-family:'Liberation Sans',Arial,sans-serif;font-size:9.8px" fill="#111" stroke="#111" stroke-width="0.2" transform="matrix(1,0,0,1.1,0,-16.61)">20</text>
<text x="93.7" y="166.1" text-anchor="middle" style="font-family:'Liberation Sans',Arial,sans-serif;font-size:9.8px" fill="#111" stroke="#111" stroke-width="0.2" transform="matrix(1,0,0,1.1,0,-16.61)">30</text>
<text x="125" y="166.1" text-anchor="middle" style="font-family:'Liberation Sans',Arial,sans-serif;font-size:9.8px" fill="#111" stroke="#111" stroke-width="0.2" transform="matrix(1,0,0,1.1,0,-16.61)">40</text>
<text x="156.2" y="166.1" text-anchor="middle" style="font-family:'Liberation Sans',Arial,sans-serif;font-size:9.8px" fill="#111" stroke="#111" stroke-width="0.2" transform="matrix(1,0,0,1.1,0,-16.61)">50</text>
<text x="187.4" y="166.1" text-anchor="middle" style="font-family:'Liberation Sans',Arial,sans-serif;font-size:9.8px" fill="#111" stroke="#111" stroke-width="0.2" transform="matrix(1,0,0,1.1,0,-16.61)">60</text>
<text x="218.7" y="166.1" text-anchor="middle" style="font-family:'Liberation Sans',Arial,sans-serif;font-size:9.8px" fill="#111" stroke="#111" stroke-width="0.2" transform="matrix(1,0,0,1.1,0,-16.61)">70</text>
<text x="249.9" y="166.1" text-anchor="middle" style="font-family:'Liberation Sans',Arial,sans-serif;font-size:9.8px" fill="#111" stroke="#111" stroke-width="0.2" transform="matrix(1,0,0,1.1,0,-16.61)">80</text>
<text x="148.5" y="180.8" text-anchor="middle" style="font-family:'Liberation Sans',Arial,sans-serif;font-size:10.2px" fill="#111" stroke="#111" stroke-width="0.2" transform="matrix(1,0,0,1.1,0,-18.08)">2-Theta (Degree)</text>
<text transform="translate(21.9,78.7) rotate(-90)" text-anchor="middle" style="font-family:'Liberation Sans',Arial,sans-serif;font-size:10.5px" fill="#111" stroke="#111" stroke-width="0.2">Intensity (a.u.)</text>
<text x="7.2" y="21" style="font-family:'Liberation Sans',Arial,sans-serif;font-size:17px;font-weight:bold" fill="#000" stroke="#000" stroke-width="0.2" transform="matrix(1,0,0,1.1,0,-2.10)">(a)</text>
<circle cx="36.2" cy="15.1" r="2" fill="#3d9ae8"/>
<text x="40.8" y="18.4" style="font-family:'Liberation Sans',Arial,sans-serif;font-size:8.1px" fill="#111" stroke="#111" stroke-width="0.2" transform="matrix(1,0,0,1.1,0,-1.84)">CaO</text>
<circle cx="117.3" cy="18.9" r="2" fill="#3d9ae8"/>
<circle cx="170.3" cy="19.2" r="2" fill="#3d9ae8"/>
<text x="228.2" y="17.5" style="font-family:'Liberation Sans',Arial,sans-serif;font-size:7.6px" fill="#111" stroke="#111" stroke-width="0.2" transform="matrix(1,0,0,1.1,0,-1.75)"><tspan font-style="italic">x</tspan> = 0.08</text>
<text x="228.2" y="33.3" style="font-family:'Liberation Sans',Arial,sans-serif;font-size:7.6px" fill="#111" stroke="#111" stroke-width="0.2" transform="matrix(1,0,0,1.1,0,-3.33)"><tspan font-style="italic">x</tspan> = 0.05</text>
<text x="228.2" y="50.7" style="font-family:'Liberation Sans',Arial,sans-serif;font-size:7.6px" fill="#111" stroke="#111" stroke-width="0.2" transform="matrix(1,0,0,1.1,0,-5.07)"><tspan font-style="italic">x</tspan> = 0.03</text>
<text x="228.2" y="68.3" style="font-family:'Liberation Sans',Arial,sans-serif;font-size:7.6px" fill="#111" stroke="#111" stroke-width="0.2" transform="matrix(1,0,0,1.1,0,-6.83)"><tspan font-style="italic">x</tspan> = 0.01</text>
<text x="228.2" y="88.5" style="font-family:'Liberation Sans',Arial,sans-serif;font-size:7.6px" fill="#111" stroke="#111" stroke-width="0.2" transform="matrix(1,0,0,1.1,0,-8.85)"><tspan font-style="italic">x</tspan> = 0.005</text>
<text x="228.2" y="108.2" style="font-family:'Liberation Sans',Arial,sans-serif;font-size:7.6px" fill="#111" stroke="#111" stroke-width="0.2" transform="matrix(1,0,0,1.1,0,-10.82)"><tspan font-style="italic">x</tspan> = 0.003</text>
<text x="228.2" y="129" style="font-family:'Liberation Sans',Arial,sans-serif;font-size:7.6px" fill="#111" stroke="#111" stroke-width="0.2" transform="matrix(1,0,0,1.1,0,-12.90)"><tspan font-style="italic">x</tspan> = 0.001</text>
<text x="260.2" y="145.5" text-anchor="end" style="font-family:'Liberation Sans',Arial,sans-serif;font-size:7.15px" fill="#111" stroke="#111" stroke-width="0.2" transform="matrix(1,0,0,1.1,0,-14.55)">CaZnOS ICSD - 245,309</text>
<path d="M295,21.9 C298,20.9 300,18.7 303,18.7 S309.5,20.4 312,20.4 S316.5,11.8 318.5,11.8 S324.5,19.6 328.5,22.6" fill="none" stroke="#c9c9e2" stroke-width="1.3"/>
<path d="M295,37.7 C298,36.7 300,35.1 303,35.1 S309.5,37.1 312,37.1 S316.5,30.6 318.5,30.6 S325,35.9 329,38.9" fill="none" stroke="#eee77a" stroke-width="1.3"/>
<path d="M295,53.3 C298,52.3 300,50.5 303,50.5 S309.5,52.5 312,52.5 S316.3,46.8 318.3,46.8 S325,51.3 329,54.3" fill="none" stroke="#f5c4a4" stroke-width="1.3"/>
<path d="M294,71 C297,70 301,66 304,66 S310.5,69.4 313,69.4 S317.5,58.5 319.5,58.5 S325.5,68 329.5,71" fill="none" stroke="#22b04e" stroke-width="1.3"/>
<path d="M294,94.3 C297,93.3 301.5,85.9 304.5,85.9 S308.5,90.1 311,90.1 S316.8,76.5 318.8,76.5 S325,91.6 329,94.6" fill="none" stroke="#cf9ee8" stroke-width="1.3"/>
<path d="M294,115 C297,114 301.5,107.9 304.5,107.9 S309,111.2 311.5,111.2 S317,99.5 319,99.5 S325.5,112.5 329.5,115.5" fill="none" stroke="#ee3b4c" stroke-width="1.3"/>
<path d="M294,136.1 C297,135.1 300.5,129 303.5,129 S308.5,132.7 311,132.7 S316,118.8 318,118.8 S324.5,133.9 328.5,136.9" fill="none" stroke="#f4a8b8" stroke-width="1.3"/>
<path d="M320.5,151.5V140.7" stroke="#000" stroke-width="1"/>
<path d="M320.3,6.5V141" stroke="#1f8ff0" stroke-width="1" stroke-dasharray="2,1.2"/>
<rect x="293.3" y="6.3" width="36.7" height="145.2" fill="none" stroke="#3a3a3a" stroke-width="1.2"/>
<path d="M293.3,151.5v3.2M311.6,151.5v2M330,151.5v3.2" stroke="#222" stroke-width="1"/>
<text x="295.8" y="164.8" text-anchor="middle" style="font-family:'Liberation Sans',Arial,sans-serif;font-size:8.7px" fill="#111" stroke="#111" stroke-width="0.2" transform="matrix(1,0,0,1.1,0,-16.48)">31.2</text>
<text x="332.4" y="164.8" text-anchor="middle" style="font-family:'Liberation Sans',Arial,sans-serif;font-size:8.7px" fill="#111" stroke="#111" stroke-width="0.2" transform="matrix(1,0,0,1.1,0,-16.48)">31.9</text>
<text x="309" y="177.4" text-anchor="middle" style="font-family:'Liberation Sans',Arial,sans-serif;font-size:8.1px" fill="#111" stroke="#111" stroke-width="0.2" transform="matrix(1,0,0,1.1,0,-17.74)">2-Theta (Degree)</text>
<text transform="translate(288.9,78.7) rotate(-90)" text-anchor="middle" style="font-family:'Liberation Sans',Arial,sans-serif;font-size:8.8px" fill="#111" stroke="#111" stroke-width="0.2">Intensity (a.u.)</text>
<text x="5.6" y="203.2" style="font-family:'Liberation Sans',Arial,sans-serif;font-size:17.5px;font-weight:bold" fill="#000" stroke="#000" stroke-width="0.2" transform="matrix(1,0,0,1.1,0,-20.32)">(b)</text>
<circle cx="36.7" cy="200" r="4.6" fill="url(#gCa)"/>
<text x="50.6" y="203" style="font-family:'Liberation Serif','Times New Roman',serif;font-size:8.4px;font-weight:bold" fill="#111" stroke="#111" stroke-width="0.2" transform="matrix(1,0,0,1.1,0,-20.30)">Ca</text>
<circle cx="36.7" cy="217.8" r="4.6" fill="url(#gZn)"/>
<text x="50.6" y="220.8" style="font-family:'Liberation Serif','Times New Roman',serif;font-size:8.4px;font-weight:bold" fill="#111" stroke="#111" stroke-width="0.2" transform="matrix(1,0,0,1.1,0,-22.08)">Zn</text>
<circle cx="36.7" cy="237" r="4.4" fill="url(#gO)"/>
<text x="50.6" y="240" style="font-family:'Liberation Serif','Times New Roman',serif;font-size:8.4px;font-weight:bold" fill="#111" stroke="#111" stroke-width="0.2" transform="matrix(1,0,0,1.1,0,-24.00)">O</text>
<circle cx="36.7" cy="255.4" r="4.5" fill="url(#gS)"/>
<text x="50.6" y="258.4" style="font-family:'Liberation Serif','Times New Roman',serif;font-size:8.4px;font-weight:bold" fill="#111" stroke="#111" stroke-width="0.2" transform="matrix(1,0,0,1.1,0,-25.84)">S</text>
<circle cx="36.7" cy="275.6" r="4.6" fill="url(#gMn)"/>
<text x="50.6" y="278.6" style="font-family:'Liberation Serif','Times New Roman',serif;font-size:8.4px;font-weight:bold" fill="#111" stroke="#111" stroke-width="0.2" transform="matrix(1,0,0,1.1,0,-27.86)">Mn</text>
<path d="M46.8,332.3V320" stroke="#1428e8" stroke-width="1.9"/><path d="M44,321.5L46.8,316L49.6,321.5Z" fill="#1428e8"/>
<path d="M46.8,332.3L39,333.2" stroke="#e01818" stroke-width="1.9"/><path d="M40.2,330.6L34.6,333.7L40.6,336Z" fill="#e01818"/>
<path d="M46.8,332.3H58" stroke="#18c018" stroke-width="1.9"/><path d="M57,329.6L62.6,332.4L57,335.2Z" fill="#18c018"/>
<circle cx="46.8" cy="332.3" r="1.2" fill="#ccc"/>
<text x="47.3" y="315.6" text-anchor="middle" style="font-family:'Liberation Sans',Arial,sans-serif;font-size:8.4px;font-weight:bold" fill="#111" stroke="#111" stroke-width="0.2" transform="matrix(1,0,0,1.1,0,-31.56)">c</text>
<text x="32.3" y="337.6" text-anchor="middle" style="font-family:'Liberation Sans',Arial,sans-serif;font-size:8.4px;font-weight:bold" fill="#111" stroke="#111" stroke-width="0.2" transform="matrix(1,0,0,1.1,0,-33.76)">a</text>
<text x="66.4" y="336.4" text-anchor="middle" style="font-family:'Liberation Sans',Arial,sans-serif;font-size:8.4px;font-weight:bold" fill="#111" stroke="#111" stroke-width="0.2" transform="matrix(1,0,0,1.1,0,-33.64)">b</text>
<polygon points="105,230 121.2,226 138,231 136,256 117.8,262 103,257" fill="#f0a2c6" fill-opacity="0.9" stroke="#d485a8" stroke-width="0.7"/><polygon points="121.2,226 138,231 136,256 119.5,242.2" fill="#e98fb6" fill-opacity="0.6"/><polygon points="138,231.5 154.2,227.5 171,232.5 169,257.5 150.8,263.5 136,258.5" fill="#f0a2c6" fill-opacity="0.9" stroke="#d485a8" stroke-width="0.7"/><polygon points="154.2,227.5 171,232.5 169,257.5 152.5,243.7" fill="#e98fb6" fill-opacity="0.6"/><polygon points="171,230 187.2,226 204,231 202,256 183.8,262 169,257" fill="#f0a2c6" fill-opacity="0.9" stroke="#d485a8" stroke-width="0.7"/><polygon points="187.2,226 204,231 202,256 185.5,242.2" fill="#e98fb6" fill-opacity="0.6"/>
<circle cx="122" cy="238.5" r="6.5" fill="url(#gCa)"/><circle cx="154" cy="240" r="6.5" fill="url(#gCa)"/><circle cx="183" cy="237.5" r="6.5" fill="url(#gCa)"/>
<circle cx="126" cy="251" r="3.6" fill="#f4b090" opacity="0.7"/><circle cx="160" cy="254" r="3.6" fill="#f4b090" opacity="0.7"/>
<polygon points="126,281 142.2,277 159,282 157,308 138.8,314 124,309" fill="#f0a2c6" fill-opacity="0.9" stroke="#d485a8" stroke-width="0.7"/><polygon points="142.2,277 159,282 157,308 140.5,293.6" fill="#e98fb6" fill-opacity="0.6"/><polygon points="159,282.5 175.2,278.5 192,283.5 190,309.5 171.8,315.5 157,310.5" fill="#f0a2c6" fill-opacity="0.9" stroke="#d485a8" stroke-width="0.7"/><polygon points="175.2,278.5 192,283.5 190,309.5 173.5,295.1" fill="#e98fb6" fill-opacity="0.6"/><polygon points="192,281 208.2,277 225,282 223,308 204.8,314 190,309" fill="#f0a2c6" fill-opacity="0.9" stroke="#d485a8" stroke-width="0.7"/><polygon points="208.2,277 225,282 223,308 206.5,293.6" fill="#e98fb6" fill-opacity="0.6"/>
<circle cx="142" cy="291" r="6.5" fill="url(#gCa)"/><circle cx="177" cy="293" r="6.5" fill="url(#gCa)"/><circle cx="204" cy="289" r="6.5" fill="url(#gCa)"/>
<circle cx="141" cy="303" r="4" fill="#f4b090" opacity="0.75"/><circle cx="181" cy="309" r="4" fill="#f4b090" opacity="0.75"/><circle cx="210" cy="305" r="3.6" fill="#f4b090" opacity="0.7"/>
<polygon points="103,196.5 136,198.5 118,225.5" fill="#3ccbd3" stroke="#1a9eaa" stroke-width="0.5"/><polygon points="103,196.5 111,202 118,225.5" fill="#22b4c0"/><polygon points="111,202 136,198.5 118,225.5" fill="#34c6cf" stroke="#6fdce2" stroke-width="0.4"/><line x1="119" y1="207.5" x2="118" y2="225.5" stroke="#c04040" stroke-width="1.2"/><line x1="119" y1="207.5" x2="136" y2="198.5" stroke="#b8d830" stroke-width="1"/><circle cx="119" cy="207.5" r="4.2" fill="url(#gZn)" opacity="0.7"/><circle cx="118" cy="225.5" r="2.7" fill="url(#gO)"/><circle cx="103" cy="196.5" r="3.4" fill="url(#gS)"/><circle cx="111" cy="202" r="3.4" fill="url(#gS)"/><polygon points="137,195 170,197 152,224" fill="#3ccbd3" stroke="#1a9eaa" stroke-width="0.5"/><polygon points="137,195 145,200.5 152,224" fill="#22b4c0"/><polygon points="145,200.5 170,197 152,224" fill="#34c6cf" stroke="#6fdce2" stroke-width="0.4"/><line x1="153" y1="206" x2="152" y2="224" stroke="#c04040" stroke-width="1.2"/><line x1="153" y1="206" x2="170" y2="197" stroke="#b8d830" stroke-width="1"/><circle cx="153" cy="206" r="4.2" fill="url(#gZn)" opacity="0.7"/><circle cx="152" cy="224" r="2.7" fill="url(#gO)"/><circle cx="137" cy="195" r="3.4" fill="url(#gS)"/><circle cx="145" cy="200.5" r="3.4" fill="url(#gS)"/><polygon points="171,195.5 204,197.5 186,224.5" fill="#3ccbd3" stroke="#1a9eaa" stroke-width="0.5"/><polygon points="171,195.5 179,201 186,224.5" fill="#22b4c0"/><polygon points="179,201 204,197.5 186,224.5" fill="#34c6cf" stroke="#6fdce2" stroke-width="0.4"/><line x1="187" y1="206.5" x2="186" y2="224.5" stroke="#c04040" stroke-width="1.2"/><line x1="187" y1="206.5" x2="204" y2="197.5" stroke="#b8d830" stroke-width="1"/><circle cx="187" cy="206.5" r="4.2" fill="url(#gZn)" opacity="0.7"/><circle cx="186" cy="224.5" r="2.7" fill="url(#gO)"/><circle cx="171" cy="195.5" r="3.4" fill="url(#gS)"/><circle cx="179" cy="201" r="3.4" fill="url(#gS)"/><polygon points="205,197.5 238,199.5 220,226.5" fill="#3ccbd3" stroke="#1a9eaa" stroke-width="0.5"/><polygon points="205,197.5 213,203 220,226.5" fill="#22b4c0"/><polygon points="213,203 238,199.5 220,226.5" fill="#34c6cf" stroke="#6fdce2" stroke-width="0.4"/><line x1="221" y1="208.5" x2="220" y2="226.5" stroke="#c04040" stroke-width="1.2"/><line x1="221" y1="208.5" x2="238" y2="199.5" stroke="#b8d830" stroke-width="1"/><circle cx="221" cy="208.5" r="4.2" fill="url(#gZn)" opacity="0.7"/><circle cx="220" cy="226.5" r="2.7" fill="url(#gO)"/><circle cx="205" cy="197.5" r="3.4" fill="url(#gS)"/><circle cx="213" cy="203" r="3.4" fill="url(#gS)"/><circle cx="238" cy="199.5" r="3.4" fill="url(#gS)"/><polygon points="85.5,203 118.5,205 100.5,232" fill="#3ccbd3" stroke="#1a9eaa" stroke-width="0.5"/><polygon points="85.5,203 93.5,208.5 100.5,232" fill="#22b4c0"/><polygon points="93.5,208.5 118.5,205 100.5,232" fill="#34c6cf" stroke="#6fdce2" stroke-width="0.4"/><line x1="101.5" y1="214" x2="100.5" y2="232" stroke="#c04040" stroke-width="1.2"/><line x1="101.5" y1="214" x2="118.5" y2="205" stroke="#b8d830" stroke-width="1"/><circle cx="101.5" cy="214" r="4.2" fill="url(#gZn)" opacity="0.7"/><circle cx="100.5" cy="232" r="2.7" fill="url(#gO)"/><circle cx="85.5" cy="203" r="3.4" fill="url(#gS)"/><circle cx="93.5" cy="208.5" r="3.4" fill="url(#gS)"/><polygon points="120,204 153,206 135,233" fill="#3ccbd3" stroke="#1a9eaa" stroke-width="0.5"/><polygon points="120,204 128,209.5 135,233" fill="#22b4c0"/><polygon points="128,209.5 153,206 135,233" fill="#34c6cf" stroke="#6fdce2" stroke-width="0.4"/><line x1="136" y1="215" x2="135" y2="233" stroke="#c04040" stroke-width="1.2"/><line x1="136" y1="215" x2="153" y2="206" stroke="#b8d830" stroke-width="1"/><circle cx="136" cy="215" r="4.2" fill="url(#gZn)" opacity="0.7"/><circle cx="135" cy="233" r="2.7" fill="url(#gO)"/><circle cx="120" cy="204" r="3.4" fill="url(#gS)"/><circle cx="128" cy="209.5" r="3.4" fill="url(#gS)"/><polygon points="154,205.5 187,207.5 169,234.5" fill="#3ccbd3" stroke="#1a9eaa" stroke-width="0.5"/><polygon points="154,205.5 162,211 169,234.5" fill="#22b4c0"/><polygon points="162,211 187,207.5 169,234.5" fill="#34c6cf" stroke="#6fdce2" stroke-width="0.4"/><line x1="170" y1="216.5" x2="169" y2="234.5" stroke="#c04040" stroke-width="1.2"/><line x1="170" y1="216.5" x2="187" y2="207.5" stroke="#b8d830" stroke-width="1"/><circle cx="170" cy="216.5" r="4.2" fill="url(#gZn)" opacity="0.7"/><circle cx="169" cy="234.5" r="2.7" fill="url(#gO)"/><circle cx="154" cy="205.5" r="3.4" fill="url(#gS)"/><circle cx="162" cy="211" r="3.4" fill="url(#gS)"/><polygon points="188,203.5 221,205.5 203,232.5" fill="#3ccbd3" stroke="#1a9eaa" stroke-width="0.5"/><polygon points="188,203.5 196,209 203,232.5" fill="#22b4c0"/><polygon points="196,209 221,205.5 203,232.5" fill="#34c6cf" stroke="#6fdce2" stroke-width="0.4"/><line x1="204" y1="214.5" x2="203" y2="232.5" stroke="#c04040" stroke-width="1.2"/><line x1="204" y1="214.5" x2="221" y2="205.5" stroke="#b8d830" stroke-width="1"/><circle cx="204" cy="214.5" r="4.2" fill="url(#gZn)" opacity="0.7"/><circle cx="203" cy="232.5" r="2.7" fill="url(#gO)"/><circle cx="188" cy="203.5" r="3.4" fill="url(#gS)"/><circle cx="196" cy="209" r="3.4" fill="url(#gS)"/><circle cx="221" cy="205.5" r="3.4" fill="url(#gS)"/>
<polygon points="100,256 133,258 115,285" fill="#3ccbd3" stroke="#1a9eaa" stroke-width="0.5"/><polygon points="100,256 108,261.5 115,285" fill="#22b4c0"/><polygon points="108,261.5 133,258 115,285" fill="#34c6cf" stroke="#6fdce2" stroke-width="0.4"/><line x1="116" y1="267" x2="115" y2="285" stroke="#c04040" stroke-width="1.2"/><line x1="116" y1="267" x2="133" y2="258" stroke="#b8d830" stroke-width="1"/><circle cx="116" cy="267" r="4.2" fill="url(#gZn)" opacity="0.7"/><circle cx="115" cy="285" r="2.7" fill="url(#gO)"/><circle cx="100" cy="256" r="3.4" fill="url(#gS)"/><circle cx="108" cy="261.5" r="3.4" fill="url(#gS)"/><polygon points="196,255 229,257 211,284" fill="#3ccbd3" stroke="#1a9eaa" stroke-width="0.5"/><polygon points="196,255 204,260.5 211,284" fill="#22b4c0"/><polygon points="204,260.5 229,257 211,284" fill="#34c6cf" stroke="#6fdce2" stroke-width="0.4"/><line x1="212" y1="266" x2="211" y2="284" stroke="#c04040" stroke-width="1.2"/><line x1="212" y1="266" x2="229" y2="257" stroke="#b8d830" stroke-width="1"/><circle cx="212" cy="266" r="4.2" fill="url(#gZn)" opacity="0.7"/><circle cx="211" cy="284" r="2.7" fill="url(#gO)"/><circle cx="196" cy="255" r="3.4" fill="url(#gS)"/><circle cx="204" cy="260.5" r="3.4" fill="url(#gS)"/><polygon points="215,253 248,255 230,282" fill="#3ccbd3" stroke="#1a9eaa" stroke-width="0.5"/><polygon points="215,253 223,258.5 230,282" fill="#22b4c0"/><polygon points="223,258.5 248,255 230,282" fill="#34c6cf" stroke="#6fdce2" stroke-width="0.4"/><line x1="231" y1="264" x2="230" y2="282" stroke="#c04040" stroke-width="1.2"/><line x1="231" y1="264" x2="248" y2="255" stroke="#b8d830" stroke-width="1"/><circle cx="231" cy="264" r="4.2" fill="url(#gZn)" opacity="0.7"/><circle cx="230" cy="282" r="2.7" fill="url(#gO)"/><circle cx="215" cy="253" r="3.4" fill="url(#gS)"/><circle cx="223" cy="258.5" r="3.4" fill="url(#gS)"/><circle cx="248" cy="255" r="3.4" fill="url(#gS)"/><polygon points="78.6,259 111.6,261 93.6,288" fill="#3ccbd3" stroke="#1a9eaa" stroke-width="0.5"/><polygon points="78.6,259 86.6,264.5 93.6,288" fill="#22b4c0"/><polygon points="86.6,264.5 111.6,261 93.6,288" fill="#34c6cf" stroke="#6fdce2" stroke-width="0.4"/><line x1="94.6" y1="270" x2="93.6" y2="288" stroke="#c04040" stroke-width="1.2"/><line x1="94.6" y1="270" x2="111.6" y2="261" stroke="#b8d830" stroke-width="1"/><circle cx="94.6" cy="270" r="4.2" fill="url(#gZn)" opacity="0.7"/><circle cx="93.6" cy="288" r="2.7" fill="url(#gO)"/><circle cx="78.6" cy="259" r="3.4" fill="url(#gS)"/><circle cx="86.6" cy="264.5" r="3.4" fill="url(#gS)"/><polygon points="113,261.5 146,263.5 128,290.5" fill="#3ccbd3" stroke="#1a9eaa" stroke-width="0.5"/><polygon points="113,261.5 121,267 128,290.5" fill="#22b4c0"/><polygon points="121,267 146,263.5 128,290.5" fill="#34c6cf" stroke="#6fdce2" stroke-width="0.4"/><line x1="129" y1="272.5" x2="128" y2="290.5" stroke="#c04040" stroke-width="1.2"/><line x1="129" y1="272.5" x2="146" y2="263.5" stroke="#b8d830" stroke-width="1"/><circle cx="129" cy="272.5" r="4.2" fill="url(#gZn)" opacity="0.7"/><circle cx="128" cy="290.5" r="2.7" fill="url(#gO)"/><circle cx="113" cy="261.5" r="3.4" fill="url(#gS)"/><circle cx="121" cy="267" r="3.4" fill="url(#gS)"/><polygon points="147,262.5 180,264.5 162,291.5" fill="#3ccbd3" stroke="#1a9eaa" stroke-width="0.5"/><polygon points="147,262.5 155,268 162,291.5" fill="#22b4c0"/><polygon points="155,268 180,264.5 162,291.5" fill="#34c6cf" stroke="#6fdce2" stroke-width="0.4"/><line x1="163" y1="273.5" x2="162" y2="291.5" stroke="#c04040" stroke-width="1.2"/><line x1="163" y1="273.5" x2="180" y2="264.5" stroke="#b8d830" stroke-width="1"/><circle cx="163" cy="273.5" r="4.2" fill="url(#gZn)" opacity="0.7"/><circle cx="162" cy="291.5" r="2.7" fill="url(#gO)"/><circle cx="147" cy="262.5" r="3.4" fill="url(#gS)"/><circle cx="155" cy="268" r="3.4" fill="url(#gS)"/><polygon points="181,263 214,265 196,292" fill="#3ccbd3" stroke="#1a9eaa" stroke-width="0.5"/><polygon points="181,263 189,268.5 196,292" fill="#22b4c0"/><polygon points="189,268.5 214,265 196,292" fill="#34c6cf" stroke="#6fdce2" stroke-width="0.4"/><line x1="197" y1="274" x2="196" y2="292" stroke="#c04040" stroke-width="1.2"/><line x1="197" y1="274" x2="214" y2="265" stroke="#b8d830" stroke-width="1"/><circle cx="197" cy="274" r="4.2" fill="url(#gZn)" opacity="0.7"/><circle cx="196" cy="292" r="2.7" fill="url(#gO)"/><circle cx="181" cy="263" r="3.4" fill="url(#gS)"/><circle cx="189" cy="268.5" r="3.4" fill="url(#gS)"/><polygon points="212,261 245,263 227,290" fill="#3ccbd3" stroke="#1a9eaa" stroke-width="0.5"/><polygon points="212,261 220,266.5 227,290" fill="#22b4c0"/><polygon points="220,266.5 245,263 227,290" fill="#34c6cf" stroke="#6fdce2" stroke-width="0.4"/><line x1="228" y1="272" x2="227" y2="290" stroke="#c04040" stroke-width="1.2"/><line x1="228" y1="272" x2="245" y2="263" stroke="#b8d830" stroke-width="1"/><circle cx="228" cy="272" r="4.2" fill="url(#gZn)" opacity="0.7"/><circle cx="227" cy="290" r="2.7" fill="url(#gO)"/><circle cx="212" cy="261" r="3.4" fill="url(#gS)"/><circle cx="220" cy="266.5" r="3.4" fill="url(#gS)"/><circle cx="245" cy="263" r="3.4" fill="url(#gS)"/>
<polygon points="103,305 136,307 118,334" fill="#3ccbd3" stroke="#1a9eaa" stroke-width="0.5"/><polygon points="103,305 111,310.5 118,334" fill="#22b4c0"/><polygon points="111,310.5 136,307 118,334" fill="#34c6cf" stroke="#6fdce2" stroke-width="0.4"/><line x1="119" y1="316" x2="118" y2="334" stroke="#c04040" stroke-width="1.2"/><line x1="119" y1="316" x2="136" y2="307" stroke="#b8d830" stroke-width="1"/><circle cx="119" cy="316" r="4.2" fill="url(#gZn)" opacity="0.7"/><circle cx="118" cy="334" r="2.7" fill="url(#gO)"/><circle cx="103" cy="305" r="3.4" fill="url(#gS)"/><circle cx="111" cy="310.5" r="3.4" fill="url(#gS)"/><polygon points="137,305 170,307 152,334" fill="#3ccbd3" stroke="#1a9eaa" stroke-width="0.5"/><polygon points="137,305 145,310.5 152,334" fill="#22b4c0"/><polygon points="145,310.5 170,307 152,334" fill="#34c6cf" stroke="#6fdce2" stroke-width="0.4"/><line x1="153" y1="316" x2="152" y2="334" stroke="#c04040" stroke-width="1.2"/><line x1="153" y1="316" x2="170" y2="307" stroke="#b8d830" stroke-width="1"/><circle cx="153" cy="316" r="4.2" fill="url(#gZn)" opacity="0.7"/><circle cx="152" cy="334" r="2.7" fill="url(#gO)"/><circle cx="137" cy="305" r="3.4" fill="url(#gS)"/><circle cx="145" cy="310.5" r="3.4" fill="url(#gS)"/><polygon points="171,305.5 204,307.5 186,334.5" fill="#3ccbd3" stroke="#1a9eaa" stroke-width="0.5"/><polygon points="171,305.5 179,311 186,334.5" fill="#22b4c0"/><polygon points="179,311 204,307.5 186,334.5" fill="#34c6cf" stroke="#6fdce2" stroke-width="0.4"/><line x1="187" y1="316.5" x2="186" y2="334.5" stroke="#c04040" stroke-width="1.2"/><line x1="187" y1="316.5" x2="204" y2="307.5" stroke="#b8d830" stroke-width="1"/><circle cx="187" cy="316.5" r="4.2" fill="url(#gZn)" opacity="0.7"/><circle cx="186" cy="334.5" r="2.7" fill="url(#gO)"/><circle cx="171" cy="305.5" r="3.4" fill="url(#gS)"/><circle cx="179" cy="311" r="3.4" fill="url(#gS)"/><polygon points="205,305.5 238,307.5 220,334.5" fill="#3ccbd3" stroke="#1a9eaa" stroke-width="0.5"/><polygon points="205,305.5 213,311 220,334.5" fill="#22b4c0"/><polygon points="213,311 238,307.5 220,334.5" fill="#34c6cf" stroke="#6fdce2" stroke-width="0.4"/><line x1="221" y1="316.5" x2="220" y2="334.5" stroke="#c04040" stroke-width="1.2"/><line x1="221" y1="316.5" x2="238" y2="307.5" stroke="#b8d830" stroke-width="1"/><circle cx="221" cy="316.5" r="4.2" fill="url(#gZn)" opacity="0.7"/><circle cx="220" cy="334.5" r="2.7" fill="url(#gO)"/><circle cx="205" cy="305.5" r="3.4" fill="url(#gS)"/><circle cx="213" cy="311" r="3.4" fill="url(#gS)"/><circle cx="238" cy="307.5" r="3.4" fill="url(#gS)"/><polygon points="85.5,309 118.5,311 100.5,338" fill="#3ccbd3" stroke="#1a9eaa" stroke-width="0.5"/><polygon points="85.5,309 93.5,314.5 100.5,338" fill="#22b4c0"/><polygon points="93.5,314.5 118.5,311 100.5,338" fill="#34c6cf" stroke="#6fdce2" stroke-width="0.4"/><line x1="101.5" y1="320" x2="100.5" y2="338" stroke="#c04040" stroke-width="1.2"/><line x1="101.5" y1="320" x2="118.5" y2="311" stroke="#b8d830" stroke-width="1"/><circle cx="101.5" cy="320" r="4.2" fill="url(#gZn)" opacity="0.7"/><circle cx="100.5" cy="338" r="2.7" fill="url(#gO)"/><circle cx="85.5" cy="309" r="3.4" fill="url(#gS)"/><circle cx="93.5" cy="314.5" r="3.4" fill="url(#gS)"/><polygon points="120,311.5 153,313.5 135,340.5" fill="#3ccbd3" stroke="#1a9eaa" stroke-width="0.5"/><polygon points="120,311.5 128,317 135,340.5" fill="#22b4c0"/><polygon points="128,317 153,313.5 135,340.5" fill="#34c6cf" stroke="#6fdce2" stroke-width="0.4"/><line x1="136" y1="322.5" x2="135" y2="340.5" stroke="#c04040" stroke-width="1.2"/><line x1="136" y1="322.5" x2="153" y2="313.5" stroke="#b8d830" stroke-width="1"/><circle cx="136" cy="322.5" r="4.2" fill="url(#gZn)" opacity="0.7"/><circle cx="135" cy="340.5" r="2.7" fill="url(#gO)"/><circle cx="120" cy="311.5" r="3.4" fill="url(#gS)"/><circle cx="128" cy="317" r="3.4" fill="url(#gS)"/><polygon points="154,313.5 187,315.5 169,342.5" fill="#3ccbd3" stroke="#1a9eaa" stroke-width="0.5"/><polygon points="154,313.5 162,319 169,342.5" fill="#22b4c0"/><polygon points="162,319 187,315.5 169,342.5" fill="#34c6cf" stroke="#6fdce2" stroke-width="0.4"/><line x1="170" y1="324.5" x2="169" y2="342.5" stroke="#c04040" stroke-width="1.2"/><line x1="170" y1="324.5" x2="187" y2="315.5" stroke="#b8d830" stroke-width="1"/><circle cx="170" cy="324.5" r="4.2" fill="url(#gZn)" opacity="0.7"/><circle cx="169" cy="342.5" r="2.7" fill="url(#gO)"/><circle cx="154" cy="313.5" r="3.4" fill="url(#gS)"/><circle cx="162" cy="319" r="3.4" fill="url(#gS)"/><polygon points="188,315 221,317 203,344" fill="#3ccbd3" stroke="#1a9eaa" stroke-width="0.5"/><polygon points="188,315 196,320.5 203,344" fill="#22b4c0"/><polygon points="196,320.5 221,317 203,344" fill="#34c6cf" stroke="#6fdce2" stroke-width="0.4"/><line x1="204" y1="326" x2="203" y2="344" stroke="#c04040" stroke-width="1.2"/><line x1="204" y1="326" x2="221" y2="317" stroke="#b8d830" stroke-width="1"/><circle cx="204" cy="326" r="4.2" fill="url(#gZn)" opacity="0.7"/><circle cx="203" cy="344" r="2.7" fill="url(#gO)"/><circle cx="188" cy="315" r="3.4" fill="url(#gS)"/><circle cx="196" cy="320.5" r="3.4" fill="url(#gS)"/><circle cx="221" cy="317" r="3.4" fill="url(#gS)"/>
<text x="286.4" y="210.6" text-anchor="middle" style="font-family:'Liberation Sans',Arial,sans-serif;font-size:12.3px;font-weight:bold;letter-spacing:0.25px" fill="#111" stroke="#111" stroke-width="0.2">[ZnS<tspan font-size="8px" dy="2.8">3</tspan><tspan dy="-2.8">O]</tspan></text>
<polygon points="283.3,222 264.2,250.4 303.2,250.4" fill="#2ccfd8" stroke="#1aa8b4" stroke-width="0.6"/>
<polygon points="283.3,222 283.3,249.6 303.2,250.4" fill="#22c2cc" opacity="0.7"/>
<line x1="283.3" y1="239.5" x2="283.3" y2="222" stroke="#c04040" stroke-width="1.4"/>
<line x1="283.3" y1="239.5" x2="264.2" y2="250.4" stroke="#b8d830" stroke-width="1.2"/><line x1="283.3" y1="239.5" x2="303.2" y2="250.4" stroke="#b8d830" stroke-width="1.2"/>
<circle cx="283.3" cy="239.5" r="4.6" fill="url(#gZn)"/>
<circle cx="283.3" cy="249.6" r="3" fill="url(#gS)"/>
<circle cx="283.4" cy="219.2" r="2.7" fill="url(#gO)"/>
<circle cx="264.2" cy="250.4" r="4" fill="url(#gS)"/><circle cx="303.2" cy="250.4" r="4" fill="url(#gS)"/>
<path d="M313.8,231.5 Q305,220 293.5,230.5" fill="none" stroke="url(#gArr)" stroke-width="2"/><path d="M291,227.2L288.6,235.6L296.8,232.2Z" fill="#f0284c"/>
<circle cx="316" cy="239.5" r="5.4" fill="url(#gMn)"/>
<text x="317.7" y="257.2" text-anchor="middle" style="font-family:'Liberation Sans',Arial,sans-serif;font-size:12px;font-weight:bold" fill="#111" stroke="#111" stroke-width="0.2">Mn</text>
<text x="286.2" y="278" text-anchor="middle" style="font-family:'Liberation Sans',Arial,sans-serif;font-size:12.2px;font-weight:bold;letter-spacing:0.25px" fill="#111" stroke="#111" stroke-width="0.2">[CaS<tspan font-size="8px" dy="2.8">3</tspan><tspan dy="-2.8">O</tspan><tspan font-size="8px" dy="2.8">3</tspan><tspan dy="-2.8">]</tspan></text>
<polygon points="285,289.5 265.5,310.5 267,321 285,341.5 305,321 304,310.5" fill="#f0a0c4" stroke="#c888a8" stroke-width="0.6"/>
<polygon points="285,289.5 304,310.5 305,321 285,341.5 285,318" fill="#e889b2" opacity="0.8"/>
<path d="M285,318L285,289.5M285,318L267,321M285,318L305,321M285,318L265.5,310.5M285,318L304,310.5M285,318L285,341.5" stroke="#e8b040" stroke-width="0.9"/>
<circle cx="285" cy="318" r="6.6" fill="url(#gCa)"/>
<circle cx="285" cy="289.5" r="3.6" fill="url(#gS)"/><circle cx="267" cy="321" r="3.6" fill="url(#gS)"/><circle cx="305" cy="321" r="3.6" fill="url(#gS)"/>
<circle cx="265.5" cy="310.5" r="2.6" fill="url(#gO)"/><circle cx="304" cy="310.5" r="2.6" fill="url(#gO)"/><circle cx="285" cy="341.5" r="2.6" fill="url(#gO)"/>
<text x="2.8" y="379.2" style="font-family:'Liberation Sans',Arial,sans-serif;font-size:17.2px;font-weight:bold" fill="#000" stroke="#000" stroke-width="0.2" transform="matrix(1,0,0,1.1,0,-37.92)">(c)</text>
<svg x="27.3" y="355.2" width="108.7" height="77.2" viewBox="27.3 355.2 108.7 77.2" overflow="hidden"><g filter="url(#fSem)"><rect x="27.3" y="355.2" width="108.7" height="77.2" fill="#303030"/><path d="M43.3,364.4 Q43.9,366 43.1,367.5 Q42.3,369 42.7,371.6 Q43.1,374.2 40.7,373.5 Q38.4,372.8 37.2,374.7 Q36,376.7 34.4,375.7 Q32.9,374.7 32.2,372.9 Q31.6,371.1 29.6,370.6 Q27.6,370 28.8,368 Q29.9,366 29,364.1 Q28,362.2 29.8,361.5 Q31.5,360.8 32.5,360 Q33.5,359.1 34.8,357.6 Q36,356.1 38.1,355.1 Q40.2,354.1 40.5,357.3 Q40.7,360.6 41.7,361.7 Q42.7,362.8 43.3,364.4Z" fill="#5c5c5c"/><circle cx="29.9" cy="358.7" r="2.2" fill="url(#gSem1)"/><circle cx="28.9" cy="372.2" r="1.4" fill="url(#gSem1)"/><circle cx="38.7" cy="362.1" r="1.5" fill="url(#gSem1)"/><circle cx="39.3" cy="369.5" r="2.5" fill="url(#gSem1)"/><circle cx="38.7" cy="372.8" r="2.3" fill="url(#gSem1)"/><circle cx="31.6" cy="371.2" r="1.4" fill="url(#gSem1)"/><circle cx="39.3" cy="367.5" r="2.3" fill="url(#gSem1)"/><circle cx="32" cy="368.3" r="2.2" fill="url(#gSem1)"/><circle cx="31.8" cy="367.5" r="2.5" fill="url(#gSem1)"/><circle cx="34.8" cy="361.7" r="2.2" fill="url(#gSem1)"/><circle cx="27.8" cy="364.5" r="2.4" fill="url(#gSem1)"/><circle cx="33.9" cy="376" r="1.5" fill="url(#gSem1)"/><circle cx="29.4" cy="370.4" r="1.5" fill="url(#gSem1)"/><circle cx="34.7" cy="366.1" r="2.3" fill="url(#gSem1)"/><circle cx="36.6" cy="358.5" r="2.6" fill="url(#gSem1)"/><circle cx="33.2" cy="373.7" r="2.2" fill="url(#gSem1)"/><circle cx="31.1" cy="362.9" r="2.6" fill="url(#gSem1)"/><circle cx="41.4" cy="363.7" r="2.3" fill="url(#gSem1)"/><circle cx="42.8" cy="369.1" r="2.3" fill="url(#gSem1)"/><circle cx="44" cy="365.6" r="1.7" fill="url(#gSem1)"/><circle cx="30.7" cy="371.4" r="1.3" fill="url(#gSem1)"/><circle cx="33" cy="366.9" r="1.5" fill="url(#gSem1)"/><circle cx="43.2" cy="369.2" r="1.5" fill="url(#gSem1)"/><circle cx="36.1" cy="371.9" r="2.6" fill="url(#gSem1)"/><circle cx="40.9" cy="369.1" r="2.1" fill="url(#gSem1)"/><circle cx="42" cy="359.8" r="2.6" fill="url(#gSem1)"/><circle cx="35.1" cy="372.1" r="1.8" fill="url(#gSem1)"/><circle cx="42.6" cy="359.2" r="1.5" fill="url(#gSem1)"/><circle cx="37.7" cy="369.9" r="1.7" fill="url(#gSem1)"/><circle cx="29.5" cy="366.7" r="1.7" fill="url(#gSem1)"/><circle cx="40.1" cy="366.1" r="1" fill="#2e2e2e" opacity="0.8"/><circle cx="29.3" cy="362.6" r="1.3" fill="#2e2e2e" opacity="0.8"/><circle cx="30.6" cy="365.4" r="1.3" fill="#2e2e2e" opacity="0.8"/><circle cx="42.7" cy="368.7" r="1.4" fill="#2e2e2e" opacity="0.8"/><circle cx="40.6" cy="360.7" r="1.1" fill="#2e2e2e" opacity="0.8"/><circle cx="34.7" cy="367.1" r="1.3" fill="#2e2e2e" opacity="0.8"/><path d="M47.2,359.4 Q47,360 46.9,360.5 Q46.8,361 46.7,361.6 Q46.6,362.1 46.2,362.4 Q45.8,362.7 45.4,363 Q45,363.4 44.6,362.9 Q44.3,362.4 44,362.1 Q43.7,361.7 43.3,361.4 Q43,361.1 43,360.5 Q42.9,360 42.8,359.3 Q42.6,358.7 43.1,358.4 Q43.7,358.2 43.6,356.9 Q43.6,355.6 44.3,355.7 Q45,355.9 45.4,356.6 Q45.8,357.4 46.2,357.6 Q46.7,357.8 47,358.2 Q47.4,358.7 47.2,359.4Z" fill="#5c5c5c"/><circle cx="44.5" cy="360.8" r="2.6" fill="url(#gSem1)"/><circle cx="46.8" cy="359.9" r="2" fill="url(#gSem1)"/><circle cx="45.6" cy="360.5" r="1.8" fill="url(#gSem1)"/><circle cx="44.8" cy="363.4" r="1.5" fill="url(#gSem1)"/><circle cx="47.3" cy="360.4" r="1.2" fill="#2e2e2e" opacity="0.8"/><path d="M74.9,365.5 Q73.1,367 74.1,368.3 Q75,369.6 72.8,369.9 Q70.5,370.1 70.1,371.7 Q69.7,373.3 67.9,374.6 Q66,375.9 63.7,375.3 Q61.4,374.7 59.9,373.5 Q58.4,372.3 58.5,370.7 Q58.7,369.1 58,368.1 Q57.4,367 58.3,366 Q59.3,365 58.6,363.2 Q58,361.4 60.1,361.1 Q62.3,360.7 64.1,359.9 Q66,359.1 67.6,360.3 Q69.2,361.6 70.3,362.4 Q71.4,363.2 74.1,363.6 Q76.7,363.9 74.9,365.5Z" fill="#5c5c5c"/><circle cx="74.6" cy="366.4" r="2.5" fill="url(#gSem1)"/><circle cx="69.3" cy="362" r="1.6" fill="url(#gSem1)"/><circle cx="60.9" cy="366.6" r="1.3" fill="url(#gSem1)"/><circle cx="70.4" cy="367.5" r="1.7" fill="url(#gSem1)"/><circle cx="62.7" cy="360.9" r="2" fill="url(#gSem1)"/><circle cx="74.7" cy="364.5" r="2.7" fill="url(#gSem1)"/><circle cx="63.5" cy="369" r="1.6" fill="url(#gSem1)"/><circle cx="67.2" cy="369.4" r="2.2" fill="url(#gSem1)"/><circle cx="72.9" cy="363.5" r="2" fill="url(#gSem1)"/><circle cx="61.2" cy="362.2" r="1.4" fill="url(#gSem1)"/><circle cx="61.2" cy="361.7" r="2.5" fill="url(#gSem1)"/><circle cx="66" cy="362.7" r="1.6" fill="url(#gSem1)"/><circle cx="67.2" cy="363.7" r="2.5" fill="url(#gSem1)"/><circle cx="71.4" cy="366.3" r="1.9" fill="url(#gSem1)"/><circle cx="73.4" cy="365.2" r="1.6" fill="url(#gSem1)"/><circle cx="68.1" cy="368.5" r="2.7" fill="url(#gSem1)"/><circle cx="66.7" cy="365.6" r="1.4" fill="#2e2e2e" opacity="0.8"/><circle cx="71.9" cy="366.5" r="1" fill="#2e2e2e" opacity="0.8"/><circle cx="64.2" cy="366.6" r="0.7" fill="#2e2e2e" opacity="0.8"/><path d="M91.2,359.8 Q91.7,361 90.5,362 Q89.2,363 88,363.7 Q86.8,364.4 85.9,365.6 Q85,366.7 83,366.1 Q81,365.5 79.1,366 Q77.1,366.5 75.5,365.8 Q74,365.1 74.5,363.8 Q75,362.5 74.7,361.7 Q74.3,361 74.5,360.2 Q74.6,359.4 75.5,358.8 Q76.3,358.3 77,357.3 Q77.7,356.3 79.4,356.7 Q81,357.1 82.5,357 Q83.9,356.9 84.6,357.7 Q85.2,358.5 87.9,358.6 Q90.6,358.7 91.2,359.8Z" fill="#5c5c5c"/><circle cx="77.9" cy="363.4" r="2.2" fill="url(#gSem1)"/><circle cx="85" cy="359.4" r="2.7" fill="url(#gSem1)"/><circle cx="75.5" cy="361" r="2.1" fill="url(#gSem1)"/><circle cx="85.9" cy="361.3" r="1.6" fill="url(#gSem1)"/><circle cx="88.1" cy="361.1" r="1.6" fill="url(#gSem1)"/><circle cx="74.4" cy="361.6" r="2.1" fill="url(#gSem1)"/><circle cx="78.5" cy="363.8" r="2.1" fill="url(#gSem1)"/><circle cx="81.4" cy="359.8" r="2.1" fill="url(#gSem1)"/><circle cx="81" cy="363.2" r="2.5" fill="url(#gSem1)"/><circle cx="75.3" cy="360.8" r="2.4" fill="url(#gSem1)"/><circle cx="84.3" cy="359.8" r="1.3" fill="#2e2e2e" opacity="0.8"/><circle cx="76.7" cy="360.9" r="1.3" fill="#2e2e2e" opacity="0.8"/><path d="M72.8,381.5 Q74,383 73.9,384.9 Q73.8,386.7 72.4,388.2 Q70.9,389.6 69.8,392.1 Q68.7,394.5 65.9,394.2 Q63,393.8 60.2,394 Q57.5,394.1 55,392.9 Q52.4,391.8 53.3,388.9 Q54.2,386 52.7,384.5 Q51.1,383 50.2,380.6 Q49.2,378.2 51.1,376.5 Q53,374.7 56.4,375.6 Q59.7,376.5 61.4,376.2 Q63,376 65.1,375.3 Q67.2,374.6 67.9,376.4 Q68.6,378.3 70.1,379.2 Q71.6,380 72.8,381.5Z" fill="#5c5c5c"/><circle cx="71" cy="386.3" r="2.5" fill="url(#gSem1)"/><circle cx="66" cy="381.1" r="2.4" fill="url(#gSem1)"/><circle cx="61.1" cy="380.5" r="2.6" fill="url(#gSem1)"/><circle cx="67.5" cy="382.2" r="2.7" fill="url(#gSem1)"/><circle cx="57.1" cy="386.7" r="2.8" fill="url(#gSem1)"/><circle cx="64.9" cy="380.2" r="1.9" fill="url(#gSem1)"/><circle cx="57.1" cy="382.5" r="1.6" fill="url(#gSem1)"/><circle cx="59.1" cy="390.1" r="1.3" fill="url(#gSem1)"/><circle cx="56.4" cy="381.1" r="1.3" fill="url(#gSem1)"/><circle cx="58.8" cy="389.2" r="2.1" fill="url(#gSem1)"/><circle cx="73.4" cy="386.7" r="2.5" fill="url(#gSem1)"/><circle cx="65.9" cy="382.6" r="1.7" fill="url(#gSem1)"/><circle cx="72.5" cy="385" r="1.7" fill="url(#gSem1)"/><circle cx="67.7" cy="387.1" r="2.7" fill="url(#gSem1)"/><circle cx="65.1" cy="379.2" r="1.5" fill="url(#gSem1)"/><circle cx="70.1" cy="379.7" r="2.4" fill="url(#gSem1)"/><circle cx="64.7" cy="383.9" r="2.3" fill="url(#gSem1)"/><circle cx="60.9" cy="383.9" r="2.7" fill="url(#gSem1)"/><circle cx="56.4" cy="376.8" r="1.4" fill="url(#gSem1)"/><circle cx="64.4" cy="381.5" r="2.6" fill="url(#gSem1)"/><circle cx="57.3" cy="384.4" r="2.1" fill="url(#gSem1)"/><circle cx="67.6" cy="381.1" r="1.5" fill="url(#gSem1)"/><circle cx="58.2" cy="382.3" r="1.5" fill="url(#gSem1)"/><circle cx="64" cy="384.3" r="1.6" fill="url(#gSem1)"/><circle cx="60.9" cy="387.3" r="2.4" fill="url(#gSem1)"/><circle cx="61.1" cy="389.1" r="1.6" fill="url(#gSem1)"/><circle cx="62.4" cy="383.7" r="1.7" fill="url(#gSem1)"/><circle cx="72.4" cy="383.8" r="2.1" fill="url(#gSem1)"/><circle cx="65.7" cy="388.6" r="2.7" fill="url(#gSem1)"/><circle cx="70.9" cy="388.2" r="1.9" fill="url(#gSem1)"/><circle cx="54.5" cy="383.2" r="1.1" fill="#2e2e2e" opacity="0.8"/><circle cx="55.6" cy="382.7" r="1.6" fill="#2e2e2e" opacity="0.8"/><circle cx="58.4" cy="388.9" r="1.3" fill="#2e2e2e" opacity="0.8"/><circle cx="59.7" cy="379.8" r="1" fill="#2e2e2e" opacity="0.8"/><circle cx="65.2" cy="383.6" r="0.8" fill="#2e2e2e" opacity="0.8"/><circle cx="62.8" cy="379.9" r="0.8" fill="#2e2e2e" opacity="0.8"/><path d="M80.5,396.1 Q75.8,399 79.7,401.7 Q83.7,404.4 81.4,406.8 Q79.1,409.2 74.9,410 Q70.7,410.8 66.9,409.7 Q63,408.7 60.2,408.1 Q57.3,407.6 54.7,406.8 Q52.1,405.9 49.4,404.6 Q46.8,403.2 48,401.1 Q49.3,399 48.1,396.9 Q47,394.8 49.7,393.5 Q52.4,392.3 53.1,388.7 Q53.9,385.1 58.4,384.4 Q63,383.8 66.6,386 Q70.1,388.1 71.8,390.3 Q73.5,392.4 79.3,392.8 Q85.1,393.2 80.5,396.1Z" fill="#5c5c5c"/><circle cx="59.4" cy="404.7" r="1.3" fill="url(#gSem1)"/><circle cx="54.5" cy="403.9" r="2.1" fill="url(#gSem1)"/><circle cx="66.6" cy="406.2" r="1.3" fill="url(#gSem1)"/><circle cx="62.6" cy="401.7" r="1.9" fill="url(#gSem1)"/><circle cx="64.8" cy="399.3" r="1.8" fill="url(#gSem1)"/><circle cx="64.4" cy="407.2" r="2.1" fill="url(#gSem1)"/><circle cx="63" cy="390.1" r="2.4" fill="url(#gSem1)"/><circle cx="70.4" cy="394.5" r="1.8" fill="url(#gSem1)"/><circle cx="68.7" cy="398.7" r="2.4" fill="url(#gSem1)"/><circle cx="61.3" cy="397.6" r="2.6" fill="url(#gSem1)"/><circle cx="73.6" cy="393.6" r="2.4" fill="url(#gSem1)"/><circle cx="65.1" cy="395.8" r="2.1" fill="url(#gSem1)"/><circle cx="46.8" cy="398.7" r="2.5" fill="url(#gSem1)"/><circle cx="69" cy="391.7" r="2.6" fill="url(#gSem1)"/><circle cx="57.1" cy="390.7" r="1.6" fill="url(#gSem1)"/><circle cx="68.3" cy="399.7" r="1.8" fill="url(#gSem1)"/><circle cx="75.8" cy="405.3" r="2.1" fill="url(#gSem1)"/><circle cx="53.5" cy="392.8" r="2.3" fill="url(#gSem1)"/><circle cx="62.4" cy="399" r="2.5" fill="url(#gSem1)"/><circle cx="62.9" cy="391.5" r="2.1" fill="url(#gSem1)"/><circle cx="61.1" cy="397.1" r="2.4" fill="url(#gSem1)"/><circle cx="62.9" cy="401.4" r="1.7" fill="url(#gSem1)"/><circle cx="62.1" cy="394.6" r="2.4" fill="url(#gSem1)"/><circle cx="74.7" cy="397.9" r="1.9" fill="url(#gSem1)"/><circle cx="48.8" cy="400.2" r="2.5" fill="url(#gSem1)"/><circle cx="52.7" cy="393.1" r="1.4" fill="url(#gSem1)"/><circle cx="67.8" cy="403" r="2.4" fill="url(#gSem1)"/><circle cx="58.7" cy="406.6" r="1.3" fill="url(#gSem1)"/><circle cx="70.6" cy="400.9" r="2.3" fill="url(#gSem1)"/><circle cx="57.9" cy="390.6" r="1.7" fill="url(#gSem1)"/><circle cx="51.7" cy="398.3" r="2" fill="url(#gSem1)"/><circle cx="75.4" cy="406.2" r="1.6" fill="url(#gSem1)"/><circle cx="80.2" cy="397.5" r="1.3" fill="url(#gSem1)"/><circle cx="47.5" cy="401.6" r="2.8" fill="url(#gSem1)"/><circle cx="55.2" cy="400.6" r="1.6" fill="url(#gSem1)"/><circle cx="69.7" cy="397.5" r="2.2" fill="url(#gSem1)"/><circle cx="70.7" cy="405" r="2.7" fill="url(#gSem1)"/><circle cx="73.8" cy="406.5" r="2.1" fill="url(#gSem1)"/><circle cx="74.1" cy="393" r="1.6" fill="url(#gSem1)"/><circle cx="72.4" cy="394.6" r="1.3" fill="url(#gSem1)"/><circle cx="74.8" cy="399.2" r="2" fill="url(#gSem1)"/><circle cx="61.2" cy="402.3" r="1.8" fill="url(#gSem1)"/><circle cx="56.4" cy="408.4" r="1.3" fill="url(#gSem1)"/><circle cx="63.1" cy="388.7" r="1.5" fill="url(#gSem1)"/><circle cx="76.2" cy="394.8" r="2.7" fill="url(#gSem1)"/><circle cx="61.1" cy="403.7" r="1.1" fill="#2e2e2e" opacity="0.8"/><circle cx="73.5" cy="398.9" r="1" fill="#2e2e2e" opacity="0.8"/><circle cx="57.5" cy="400.7" r="0.7" fill="#2e2e2e" opacity="0.8"/><circle cx="73.8" cy="404" r="1" fill="#2e2e2e" opacity="0.8"/><circle cx="68.3" cy="397.6" r="0.9" fill="#2e2e2e" opacity="0.8"/><circle cx="58.3" cy="398.8" r="1" fill="#2e2e2e" opacity="0.8"/><circle cx="76.4" cy="396.6" r="1.4" fill="#2e2e2e" opacity="0.8"/><circle cx="53.3" cy="392.4" r="1.5" fill="#2e2e2e" opacity="0.8"/><circle cx="51.5" cy="396.7" r="0.7" fill="#2e2e2e" opacity="0.8"/><path d="M81.6,411.5 Q82.5,412 81.9,412.5 Q81.2,413.1 81.1,413.7 Q81,414.4 80,414.6 Q79,414.9 78,414.7 Q77,414.4 76.4,414.1 Q75.8,413.8 74.2,414.2 Q72.6,414.6 73.2,413.7 Q73.8,412.8 73,412.4 Q72.3,412 72.7,411.5 Q73.1,411 73.6,410.6 Q74.1,410.3 74.5,409.6 Q74.9,408.9 75.9,408.6 Q77,408.2 77.8,409 Q78.5,409.8 79.6,409.8 Q80.7,409.8 80.8,410.4 Q80.8,411.1 81.6,411.5Z" fill="#5c5c5c"/><circle cx="74.5" cy="411.4" r="1.6" fill="url(#gSem1)"/><circle cx="78" cy="412.9" r="2.7" fill="url(#gSem1)"/><circle cx="75.1" cy="412" r="2.7" fill="url(#gSem1)"/><circle cx="79.9" cy="412" r="1.5" fill="url(#gSem1)"/><circle cx="77.3" cy="412.4" r="1" fill="#2e2e2e" opacity="0.8"/><path d="M133.1,364 Q131.8,366 132.1,367.6 Q132.3,369.3 131.3,370.7 Q130.3,372.1 129.1,374.1 Q128,376.1 125.5,377.7 Q123,379.3 120.2,378.3 Q117.4,377.3 116.1,375.1 Q114.8,372.9 113.5,371.3 Q112.3,369.8 111.4,367.9 Q110.4,366 111.5,364.2 Q112.6,362.3 113.9,360.9 Q115.3,359.4 117.5,359.4 Q119.7,359.3 121.4,358.2 Q123,357.2 126.1,355.2 Q129.3,353.2 129.4,356.9 Q129.4,360.5 131.9,361.3 Q134.4,362 133.1,364Z" fill="#5c5c5c"/><circle cx="115.2" cy="359" r="1.6" fill="url(#gSem1)"/><circle cx="122.3" cy="370.5" r="1.9" fill="url(#gSem1)"/><circle cx="111.7" cy="369.4" r="2.6" fill="url(#gSem1)"/><circle cx="123.9" cy="365.2" r="1.3" fill="url(#gSem1)"/><circle cx="120.1" cy="356.5" r="2" fill="url(#gSem1)"/><circle cx="122.9" cy="366" r="1.9" fill="url(#gSem1)"/><circle cx="132.9" cy="361.9" r="2.6" fill="url(#gSem1)"/><circle cx="128.3" cy="365.2" r="1.5" fill="url(#gSem1)"/><circle cx="127.7" cy="371.8" r="2.3" fill="url(#gSem1)"/><circle cx="132.5" cy="362.9" r="2.3" fill="url(#gSem1)"/><circle cx="123.7" cy="359.5" r="2.1" fill="url(#gSem1)"/><circle cx="133.3" cy="368.2" r="1.6" fill="url(#gSem1)"/><circle cx="131.3" cy="362.1" r="1.8" fill="url(#gSem1)"/><circle cx="126.7" cy="369.3" r="2.3" fill="url(#gSem1)"/><circle cx="121.9" cy="363.3" r="1.4" fill="url(#gSem1)"/><circle cx="114.2" cy="364.8" r="1.9" fill="url(#gSem1)"/><circle cx="124.5" cy="373.6" r="1.3" fill="url(#gSem1)"/><circle cx="120.5" cy="372.2" r="2.7" fill="url(#gSem1)"/><circle cx="115.9" cy="358.3" r="2" fill="url(#gSem1)"/><circle cx="123.5" cy="370.5" r="2.7" fill="url(#gSem1)"/><circle cx="121.3" cy="361.1" r="1.3" fill="url(#gSem1)"/><circle cx="113.2" cy="366.1" r="1.9" fill="url(#gSem1)"/><circle cx="122.6" cy="374.2" r="2.7" fill="url(#gSem1)"/><circle cx="123.2" cy="367.4" r="1.8" fill="url(#gSem1)"/><circle cx="114.4" cy="370" r="1.6" fill="url(#gSem1)"/><circle cx="126" cy="357.7" r="2.1" fill="url(#gSem1)"/><circle cx="126.4" cy="375.9" r="1.8" fill="url(#gSem1)"/><circle cx="125.2" cy="362.1" r="1.6" fill="url(#gSem1)"/><circle cx="123.4" cy="361" r="2.7" fill="url(#gSem1)"/><circle cx="118.5" cy="366.1" r="1.6" fill="url(#gSem1)"/><circle cx="114.6" cy="370.1" r="2.7" fill="url(#gSem1)"/><circle cx="127.3" cy="370.7" r="1.6" fill="url(#gSem1)"/><circle cx="126.8" cy="365.5" r="1.4" fill="url(#gSem1)"/><circle cx="129.6" cy="368.2" r="2.6" fill="url(#gSem1)"/><circle cx="129.2" cy="361.3" r="1.6" fill="#2e2e2e" opacity="0.8"/><circle cx="127.3" cy="364.3" r="0.9" fill="#2e2e2e" opacity="0.8"/><circle cx="130.8" cy="363.2" r="0.7" fill="#2e2e2e" opacity="0.8"/><circle cx="120.3" cy="362.2" r="1" fill="#2e2e2e" opacity="0.8"/><circle cx="121.5" cy="368.2" r="0.7" fill="#2e2e2e" opacity="0.8"/><circle cx="122.1" cy="370.2" r="1.6" fill="#2e2e2e" opacity="0.8"/><path d="M125.1,388 Q124.4,390 127.2,392.9 Q130,395.8 126.2,396.1 Q122.4,396.4 121.2,397.9 Q119.9,399.5 118,401.7 Q116,404 113.3,403.4 Q110.7,402.9 109.5,400.3 Q108.3,397.7 108.6,395.3 Q108.8,393 106.8,391.5 Q104.8,390 105.6,388 Q106.4,386 106,382.8 Q105.6,379.6 109.1,380.7 Q112.6,381.7 114.3,380.7 Q116,379.7 118.8,378.1 Q121.6,376.5 121.5,380.6 Q121.4,384.6 123.6,385.2 Q125.9,385.9 125.1,388Z" fill="#5c5c5c"/><circle cx="119.7" cy="381" r="1.4" fill="url(#gSem1)"/><circle cx="118.1" cy="390.5" r="2.7" fill="url(#gSem1)"/><circle cx="115.6" cy="399.6" r="2.6" fill="url(#gSem1)"/><circle cx="113.2" cy="394.4" r="2.7" fill="url(#gSem1)"/><circle cx="112.2" cy="386.6" r="2.4" fill="url(#gSem1)"/><circle cx="113.9" cy="394.8" r="1.3" fill="url(#gSem1)"/><circle cx="116.4" cy="379.2" r="2.3" fill="url(#gSem1)"/><circle cx="117.1" cy="389.6" r="1.7" fill="url(#gSem1)"/><circle cx="105" cy="391.7" r="2.7" fill="url(#gSem1)"/><circle cx="112.2" cy="393.3" r="1.9" fill="url(#gSem1)"/><circle cx="105.1" cy="390.4" r="1.6" fill="url(#gSem1)"/><circle cx="119.1" cy="381" r="2.5" fill="url(#gSem1)"/><circle cx="117.2" cy="381.6" r="1.8" fill="url(#gSem1)"/><circle cx="113.4" cy="395.6" r="2.5" fill="url(#gSem1)"/><circle cx="119.8" cy="392.1" r="2.4" fill="url(#gSem1)"/><circle cx="116" cy="392.2" r="1.4" fill="url(#gSem1)"/><circle cx="110.5" cy="388.1" r="2.8" fill="url(#gSem1)"/><circle cx="124.4" cy="382.4" r="1.7" fill="url(#gSem1)"/><circle cx="118.4" cy="391.4" r="2" fill="url(#gSem1)"/><circle cx="114.2" cy="383.2" r="1.7" fill="url(#gSem1)"/><circle cx="108.6" cy="394.3" r="2.3" fill="url(#gSem1)"/><circle cx="115.9" cy="379.7" r="2.3" fill="url(#gSem1)"/><circle cx="123.4" cy="397.1" r="1.7" fill="url(#gSem1)"/><circle cx="110.2" cy="387.4" r="2.4" fill="url(#gSem1)"/><circle cx="117.5" cy="394.7" r="1.7" fill="url(#gSem1)"/><circle cx="122" cy="398.7" r="2.2" fill="url(#gSem1)"/><circle cx="113" cy="395.8" r="2.8" fill="url(#gSem1)"/><circle cx="111.3" cy="389.8" r="2.5" fill="url(#gSem1)"/><circle cx="109.5" cy="380.7" r="1.5" fill="url(#gSem1)"/><circle cx="106" cy="391.6" r="2.6" fill="url(#gSem1)"/><circle cx="117.4" cy="389.1" r="1.7" fill="url(#gSem1)"/><circle cx="119.1" cy="392.9" r="2.8" fill="url(#gSem1)"/><circle cx="106.5" cy="384.6" r="1.9" fill="url(#gSem1)"/><circle cx="120.7" cy="384.7" r="1.7" fill="url(#gSem1)"/><circle cx="117.6" cy="380.9" r="0.8" fill="#2e2e2e" opacity="0.8"/><circle cx="110.3" cy="386.1" r="0.9" fill="#2e2e2e" opacity="0.8"/><circle cx="114.3" cy="391.8" r="0.9" fill="#2e2e2e" opacity="0.8"/><circle cx="115.8" cy="396.7" r="1.3" fill="#2e2e2e" opacity="0.8"/><circle cx="116.1" cy="390.4" r="1" fill="#2e2e2e" opacity="0.8"/><circle cx="114.7" cy="387.3" r="1" fill="#2e2e2e" opacity="0.8"/><path d="M99.8,395.9 Q99.8,397 101.2,398.5 Q102.5,400.1 100.9,401 Q99.2,401.9 97.3,401.6 Q95.3,401.3 94.1,401.5 Q93,401.8 91.5,402.2 Q90,402.7 88.4,402.3 Q86.7,401.9 85.5,400.8 Q84.3,399.8 85.6,398.4 Q86.9,397 86.9,396 Q87,395.1 86.5,393.4 Q86.1,391.7 88,391.4 Q89.9,391.2 91.5,391.3 Q93,391.4 94.4,391.5 Q95.8,391.7 98.4,391.2 Q101,390.8 100.4,392.8 Q99.9,394.8 99.8,395.9Z" fill="#5c5c5c"/><circle cx="88.8" cy="395.5" r="1.9" fill="url(#gSem1)"/><circle cx="98.6" cy="392" r="1.8" fill="url(#gSem1)"/><circle cx="95.3" cy="402.2" r="1.6" fill="url(#gSem1)"/><circle cx="101" cy="397.2" r="1.9" fill="url(#gSem1)"/><circle cx="95.1" cy="393.5" r="2.6" fill="url(#gSem1)"/><circle cx="90.2" cy="397.5" r="1.3" fill="url(#gSem1)"/><circle cx="86.8" cy="395.4" r="2.7" fill="url(#gSem1)"/><circle cx="98.5" cy="399.7" r="1.9" fill="url(#gSem1)"/><circle cx="90.3" cy="396.9" r="1.7" fill="url(#gSem1)"/><circle cx="84.9" cy="396.2" r="1.5" fill="url(#gSem1)"/><circle cx="85.5" cy="397.3" r="2.8" fill="url(#gSem1)"/><circle cx="93.8" cy="398.8" r="2.7" fill="url(#gSem1)"/><circle cx="98.5" cy="396.3" r="1.4" fill="url(#gSem1)"/><circle cx="97.3" cy="395.3" r="2.7" fill="url(#gSem1)"/><circle cx="87.5" cy="392.9" r="1.5" fill="url(#gSem1)"/><circle cx="93.8" cy="394.4" r="1.9" fill="url(#gSem1)"/><circle cx="96.6" cy="393" r="0.9" fill="#2e2e2e" opacity="0.8"/><circle cx="93.8" cy="399.9" r="1.2" fill="#2e2e2e" opacity="0.8"/><circle cx="91.8" cy="397.9" r="0.9" fill="#2e2e2e" opacity="0.8"/><path d="M118.4,408.8 Q119.1,411 119.2,413.6 Q119.3,416.1 115.7,416.1 Q112,416 111.6,418.5 Q111.2,421.1 109.1,422.2 Q107,423.3 105.6,420.4 Q104.3,417.5 101.1,418.8 Q97.9,420.1 98.9,417 Q99.9,413.9 97.9,412.5 Q95.8,411 96.4,408.9 Q97,406.9 98,404.9 Q99,403 101.2,402.8 Q103.5,402.7 105.3,401.9 Q107,401.1 109.1,401 Q111.2,400.8 112.6,402.4 Q114,404 115.9,405.3 Q117.7,406.6 118.4,408.8Z" fill="#5c5c5c"/><circle cx="101" cy="413.1" r="1.3" fill="url(#gSem1)"/><circle cx="102" cy="406.4" r="1.7" fill="url(#gSem1)"/><circle cx="107.8" cy="402" r="2" fill="url(#gSem1)"/><circle cx="109.9" cy="417" r="1.5" fill="url(#gSem1)"/><circle cx="111.4" cy="415.6" r="1.4" fill="url(#gSem1)"/><circle cx="100.5" cy="413.5" r="1.4" fill="url(#gSem1)"/><circle cx="105.5" cy="409.2" r="2.4" fill="url(#gSem1)"/><circle cx="108.2" cy="404.1" r="1.4" fill="url(#gSem1)"/><circle cx="101.2" cy="410.9" r="2.7" fill="url(#gSem1)"/><circle cx="113.2" cy="418.2" r="2.8" fill="url(#gSem1)"/><circle cx="106" cy="401.8" r="1.6" fill="url(#gSem1)"/><circle cx="113.8" cy="410.2" r="2.7" fill="url(#gSem1)"/><circle cx="110.1" cy="409.2" r="2.5" fill="url(#gSem1)"/><circle cx="108.8" cy="410.1" r="1.8" fill="url(#gSem1)"/><circle cx="107.1" cy="407.5" r="2.6" fill="url(#gSem1)"/><circle cx="105.6" cy="420.1" r="1.5" fill="url(#gSem1)"/><circle cx="97.1" cy="410.9" r="1.6" fill="url(#gSem1)"/><circle cx="106.4" cy="417.9" r="1.8" fill="url(#gSem1)"/><circle cx="110.7" cy="411.9" r="1.5" fill="url(#gSem1)"/><circle cx="114.6" cy="407.8" r="2.6" fill="url(#gSem1)"/><circle cx="111.4" cy="418.9" r="1.5" fill="url(#gSem1)"/><circle cx="99.2" cy="409.5" r="1.8" fill="url(#gSem1)"/><circle cx="112.1" cy="405.7" r="2.2" fill="url(#gSem1)"/><circle cx="109" cy="409.2" r="2.8" fill="url(#gSem1)"/><circle cx="102.9" cy="406.6" r="2.5" fill="url(#gSem1)"/><circle cx="106" cy="421.3" r="2.2" fill="url(#gSem1)"/><circle cx="101.3" cy="417.8" r="2" fill="url(#gSem1)"/><circle cx="110.9" cy="418.8" r="1.4" fill="url(#gSem1)"/><circle cx="108.9" cy="406.8" r="2.3" fill="url(#gSem1)"/><circle cx="114.5" cy="410.2" r="2.3" fill="url(#gSem1)"/><circle cx="106.9" cy="411.2" r="1.4" fill="url(#gSem1)"/><circle cx="111.6" cy="417.3" r="1.9" fill="url(#gSem1)"/><circle cx="98.9" cy="410.4" r="0.8" fill="#2e2e2e" opacity="0.8"/><circle cx="107.9" cy="417.5" r="0.7" fill="#2e2e2e" opacity="0.8"/><circle cx="111.3" cy="411.1" r="0.8" fill="#2e2e2e" opacity="0.8"/><circle cx="105.1" cy="413.4" r="1.2" fill="#2e2e2e" opacity="0.8"/><circle cx="104.5" cy="409.5" r="1.3" fill="#2e2e2e" opacity="0.8"/><circle cx="104.9" cy="411.3" r="1.5" fill="#2e2e2e" opacity="0.8"/><path d="M136,420.1 Q134.8,422 134.2,423.2 Q133.6,424.5 132.7,425.4 Q131.8,426.3 131.4,428.5 Q131,430.7 129,431.7 Q127,432.8 124.8,432.1 Q122.6,431.5 121.7,429.5 Q120.7,427.6 120.2,426.2 Q119.7,424.7 120.2,423.4 Q120.7,422 119,420.2 Q117.3,418.4 118.7,417 Q120,415.7 121.9,415.3 Q123.7,414.9 125.4,413.8 Q127,412.6 128.7,413.5 Q130.5,414.4 133.1,414.3 Q135.8,414.1 136.5,416.1 Q137.2,418.2 136,420.1Z" fill="#5c5c5c"/><circle cx="127.1" cy="430" r="1.4" fill="url(#gSem1)"/><circle cx="121.6" cy="421" r="1.7" fill="url(#gSem1)"/><circle cx="134.6" cy="424.6" r="1.3" fill="url(#gSem1)"/><circle cx="118.3" cy="419.4" r="1.5" fill="url(#gSem1)"/><circle cx="129.2" cy="428" r="2.1" fill="url(#gSem1)"/><circle cx="121.7" cy="416.1" r="1.6" fill="url(#gSem1)"/><circle cx="125.3" cy="425.9" r="1.4" fill="url(#gSem1)"/><circle cx="133.3" cy="417.3" r="2.4" fill="url(#gSem1)"/><circle cx="135.6" cy="422.3" r="2.4" fill="url(#gSem1)"/><circle cx="119.2" cy="423.5" r="2" fill="url(#gSem1)"/><circle cx="127.4" cy="424.2" r="1.6" fill="url(#gSem1)"/><circle cx="131.8" cy="423.1" r="2.4" fill="url(#gSem1)"/><circle cx="124.1" cy="414.7" r="2.4" fill="url(#gSem1)"/><circle cx="126.3" cy="428" r="2" fill="url(#gSem1)"/><circle cx="128.5" cy="416.4" r="1.7" fill="url(#gSem1)"/><circle cx="121.2" cy="415.5" r="1.6" fill="url(#gSem1)"/><circle cx="127.6" cy="421.5" r="1.7" fill="url(#gSem1)"/><circle cx="127.7" cy="429.1" r="2.7" fill="url(#gSem1)"/><circle cx="126.9" cy="417.6" r="2.6" fill="url(#gSem1)"/><circle cx="125.1" cy="425.2" r="2.7" fill="url(#gSem1)"/><circle cx="121.8" cy="417" r="2.3" fill="url(#gSem1)"/><circle cx="133" cy="421.3" r="2.6" fill="url(#gSem1)"/><circle cx="124.7" cy="415.9" r="1.1" fill="#2e2e2e" opacity="0.8"/><circle cx="126.1" cy="417.2" r="1" fill="#2e2e2e" opacity="0.8"/><circle cx="128.4" cy="427" r="0.8" fill="#2e2e2e" opacity="0.8"/><circle cx="128.8" cy="421" r="0.7" fill="#2e2e2e" opacity="0.8"/><path d="M92,426.8 Q89.9,428 92.1,429.2 Q94.4,430.4 91.7,430.7 Q89,431 87.4,431.1 Q85.7,431.3 84.4,431.2 Q83,431.2 81.8,431.1 Q80.5,431 78,431.4 Q75.4,431.8 74.4,430.9 Q73.4,430 72.8,429 Q72.2,428 72.5,426.9 Q72.8,425.9 75.5,425.8 Q78.3,425.7 78.7,424.5 Q79.1,423.3 81.1,423.5 Q83,423.7 85.2,423.2 Q87.4,422.6 89.3,423.3 Q91.2,423.9 92.7,424.8 Q94.2,425.7 92,426.8Z" fill="#5c5c5c"/><circle cx="91" cy="429.8" r="2.7" fill="url(#gSem1)"/><circle cx="85.3" cy="427.6" r="1.6" fill="url(#gSem1)"/><circle cx="84" cy="428.4" r="2.6" fill="url(#gSem1)"/><circle cx="85.7" cy="424.7" r="2.5" fill="url(#gSem1)"/><circle cx="80" cy="426.3" r="1.4" fill="url(#gSem1)"/><circle cx="89.6" cy="430.3" r="1.6" fill="url(#gSem1)"/><circle cx="80.6" cy="430.6" r="1.3" fill="url(#gSem1)"/><circle cx="82.8" cy="430.2" r="2.4" fill="url(#gSem1)"/><circle cx="79.8" cy="429.8" r="2.7" fill="url(#gSem1)"/><circle cx="74.4" cy="427.9" r="2.2" fill="url(#gSem1)"/><circle cx="88.5" cy="428.5" r="2" fill="url(#gSem1)"/><circle cx="83.7" cy="425.5" r="2.4" fill="url(#gSem1)"/><circle cx="80.3" cy="427.7" r="1.5" fill="#2e2e2e" opacity="0.8"/><circle cx="88.9" cy="429.9" r="0.9" fill="#2e2e2e" opacity="0.8"/><path d="M39.6,407.3 Q39.3,408 39.6,408.7 Q39.9,409.4 40.2,410.7 Q40.6,412 39.5,412.9 Q38.4,413.9 36.7,412.5 Q35,411.1 33.7,411.7 Q32.5,412.4 31.4,411.8 Q30.3,411.3 29,410.8 Q27.6,410.2 28.7,409.1 Q29.8,408 29.3,407.1 Q28.9,406.2 29.8,405.6 Q30.8,405 31.3,403.8 Q31.9,402.6 33.4,403.3 Q35,404 36.7,403.1 Q38.3,402.2 38.7,403.7 Q39,405.1 39.5,405.8 Q39.9,406.5 39.6,407.3Z" fill="#5c5c5c"/><circle cx="33.6" cy="405" r="1.5" fill="url(#gSem1)"/><circle cx="34" cy="407.2" r="2.5" fill="url(#gSem1)"/><circle cx="33.1" cy="404.1" r="2.2" fill="url(#gSem1)"/><circle cx="32.6" cy="410.2" r="1.9" fill="url(#gSem1)"/><circle cx="36.2" cy="407.3" r="2.6" fill="url(#gSem1)"/><circle cx="37.5" cy="408.3" r="1.7" fill="url(#gSem1)"/><circle cx="38.6" cy="406.2" r="1.9" fill="url(#gSem1)"/><circle cx="37.1" cy="406.7" r="2" fill="url(#gSem1)"/><circle cx="30.5" cy="407.4" r="1.4" fill="#2e2e2e" opacity="0.8"/><path d="M52.3,422.4 Q53.2,423 52.6,423.6 Q51.9,424.3 51.4,424.8 Q51,425.4 50.2,425.5 Q49.4,425.7 48.7,426.7 Q48,427.7 47,427.3 Q46,426.9 45,426.5 Q44.1,426.1 44.3,425.1 Q44.6,424.1 44,423.6 Q43.5,423 43.1,422.1 Q42.8,421.3 43.6,420.7 Q44.5,420.2 45.6,420.3 Q46.7,420.4 47.3,419.9 Q48,419.3 49.2,418.9 Q50.3,418.5 50.5,419.7 Q50.7,420.8 51.1,421.3 Q51.4,421.9 52.3,422.4Z" fill="#5c5c5c"/><circle cx="46.8" cy="425.9" r="2.6" fill="url(#gSem1)"/><circle cx="48.9" cy="424" r="1.7" fill="url(#gSem1)"/><circle cx="46.5" cy="425.3" r="1.5" fill="url(#gSem1)"/><circle cx="47.2" cy="424.2" r="2.8" fill="url(#gSem1)"/><circle cx="47.8" cy="422" r="2.7" fill="url(#gSem1)"/><circle cx="49.6" cy="424" r="1.6" fill="#2e2e2e" opacity="0.8"/><path d="M95.8,365.7 Q96.3,366 96.2,366.4 Q96,366.8 95.7,367.1 Q95.3,367.3 94.9,367.3 Q94.6,367.4 94.3,367.7 Q94,368.1 93.7,367.7 Q93.5,367.3 93.2,367.2 Q92.9,367.1 92.7,366.9 Q92.4,366.7 92.6,366.3 Q92.7,366 92.5,365.7 Q92.4,365.3 92.4,364.9 Q92.4,364.4 92.8,364.2 Q93.2,364 93.6,364.1 Q94,364.1 94.4,364.1 Q94.8,364.1 95.1,364.4 Q95.3,364.7 95.3,365.1 Q95.3,365.5 95.8,365.7Z" fill="#5c5c5c"/><circle cx="93.1" cy="365.3" r="2.4" fill="url(#gSem1)"/><circle cx="95" cy="365.4" r="2.2" fill="url(#gSem1)"/><circle cx="94" cy="365.1" r="0.9" fill="#2e2e2e" opacity="0.8"/></g></svg><path d="M30.6,419.2V416.6H41.6V419.2" stroke="#fff" stroke-width="1.2" fill="none"/><text x="28.4" y="429" style="font-family:'Liberation Sans',Arial,sans-serif;font-size:8.1px;font-weight:bold" fill="#fff" stroke="#fff" stroke-width="0.2" transform="matrix(1,0,0,1.1,0,-42.90)">10 μm</text>
<svg x="27.3" y="439.6" width="108.7" height="78.6" viewBox="27.3 439.6 108.7 78.6" overflow="hidden"><g filter="url(#fSem2)"><rect x="27.3" y="439.6" width="108.7" height="78.6" fill="#262626"/><path d="M58.4,459.4 Q58.9,462 58.1,464.4 Q57.4,466.8 55.3,468.7 Q53.1,470.6 50.2,470.1 Q47.2,469.5 45,468.1 Q42.7,466.7 41.7,464.4 Q40.8,462 42.1,459.9 Q43.4,457.7 45.3,456.1 Q47.2,454.4 50,454.2 Q52.9,454.1 55.4,455.5 Q57.9,456.9 58.4,459.4Z" fill="url(#gSem2b)"/><path d="M91.6,467.6 Q91.8,470 91.2,472.2 Q90.6,474.4 88.2,475.5 Q85.7,476.7 82.7,477.5 Q79.6,478.3 77,476.6 Q74.4,475 74.4,472.5 Q74.4,470 74.1,467.3 Q73.7,464.6 76.6,463 Q79.5,461.3 82.9,461.7 Q86.2,462 88.8,463.6 Q91.4,465.1 91.6,467.6Z" fill="url(#gSem2b)"/><path d="M116.1,472.4 Q116.1,475 115.1,477 Q114.2,479 112.5,480.8 Q110.8,482.7 108.2,482.1 Q105.6,481.6 103.5,480.4 Q101.4,479.3 100.5,477.1 Q99.7,475 100.7,473 Q101.7,471 103.5,469.2 Q105.2,467.5 108,467.5 Q110.7,467.5 113.4,468.7 Q116,469.8 116.1,472.4Z" fill="url(#gSem2b)"/><path d="M68.4,486.5 Q69.1,489 68.3,491.5 Q67.6,493.9 65.2,495.3 Q62.8,496.6 59.9,496.8 Q57.1,497 54.9,495.3 Q52.8,493.6 52.2,491.3 Q51.6,489 51.6,486.3 Q51.6,483.6 54.2,481.9 Q56.8,480.3 59.9,480.4 Q63.1,480.6 65.4,482.3 Q67.7,484 68.4,486.5Z" fill="url(#gSem2b)"/><path d="M35.5,467.1 Q35.7,470 35.1,472.4 Q34.5,474.9 33.1,476.4 Q31.7,478 30.1,477.7 Q28.4,477.5 26.6,476.6 Q24.8,475.7 24.5,472.9 Q24.2,470 24.4,467.1 Q24.6,464.2 26.4,462.9 Q28.2,461.7 30.2,461 Q32.1,460.3 33.7,462.2 Q35.4,464.2 35.5,467.1Z" fill="url(#gSem2b)"/><path d="M95.2,489.8 Q95.7,492 95.1,494.1 Q94.6,496.3 92.9,498.4 Q91.1,500.5 88.2,500 Q85.2,499.5 82.5,498.5 Q79.7,497.4 79.5,494.7 Q79.3,492 80.5,490 Q81.7,487.9 83.4,486 Q85.1,484.1 88.1,483.9 Q91,483.8 92.9,485.7 Q94.8,487.6 95.2,489.8Z" fill="url(#gSem2b)"/><path d="M118.4,494.9 Q119,497 118.6,499.2 Q118.1,501.5 116.5,503.6 Q114.8,505.7 112.1,505.4 Q109.3,505.2 107.8,503.2 Q106.3,501.2 105.4,499.1 Q104.6,497 105.5,494.9 Q106.3,492.9 108.1,491.6 Q109.9,490.4 112.3,489.6 Q114.7,488.7 116.3,490.7 Q117.8,492.8 118.4,494.9Z" fill="url(#gSem2b)"/><path d="M135.1,478.8 Q136.1,481 135.3,483.3 Q134.4,485.6 132.3,486.8 Q130.2,487.9 127.8,488.5 Q125.4,489.1 123.8,487.2 Q122.2,485.2 120.9,483.1 Q119.7,481 121,478.9 Q122.3,476.8 123.9,475.2 Q125.6,473.6 127.9,473.8 Q130.3,474 132.1,475.3 Q134,476.6 135.1,478.8Z" fill="url(#gSem2b)"/><path d="M54.3,505.3 Q55.3,508 54.1,510.6 Q52.9,513.1 50.3,514.1 Q47.6,515.2 44.8,515.8 Q41.9,516.5 40.1,514.4 Q38.4,512.3 37.3,510.1 Q36.3,508 36.6,505.4 Q36.9,502.8 39.5,501.4 Q42.1,500.1 44.8,500.7 Q47.4,501.3 50.4,502 Q53.3,502.6 54.3,505.3Z" fill="url(#gSem2b)"/><path d="M107,453.9 Q107.3,456 106.7,457.9 Q106,459.8 104.3,461.5 Q102.7,463.2 100.2,462.8 Q97.7,462.3 95.8,461.1 Q93.9,459.9 93.5,457.9 Q93,456 93.7,454.2 Q94.3,452.4 95.9,450.8 Q97.5,449.2 99.9,449.5 Q102.3,449.9 104.5,450.8 Q106.7,451.8 107,453.9Z" fill="url(#gSem2b)"/><path d="M76.5,460.1 Q76.7,462 76.2,463.7 Q75.6,465.5 74,467 Q72.5,468.5 70.2,468.1 Q67.8,467.7 66,466.6 Q64.2,465.6 63.2,463.8 Q62.2,462 63.6,460.4 Q64.9,458.8 66.5,457.8 Q68.1,456.9 70.2,456.2 Q72.4,455.6 74.3,456.9 Q76.2,458.1 76.5,460.1Z" fill="url(#gSem2b)"/><path d="M136.9,452.9 Q137.5,455 137,457.1 Q136.4,459.3 135.2,461.2 Q134,463.2 131.9,463.4 Q129.9,463.6 128.7,461.4 Q127.6,459.3 126.4,457.1 Q125.2,455 125.9,452.4 Q126.6,449.8 128.3,448.5 Q130.1,447.2 131.9,447.4 Q133.8,447.6 135,449.2 Q136.3,450.9 136.9,452.9Z" fill="url(#gSem2b)"/><path d="M116.6,513.4 Q116.6,515 116.9,516.7 Q117.2,518.3 114,518.9 Q110.8,519.4 107.8,519.7 Q104.7,520 102.6,518.9 Q100.5,517.7 98.8,516.4 Q97,515 98.4,513.5 Q99.7,512 102.4,511.3 Q105.1,510.5 107.9,510.6 Q110.8,510.7 113.7,511.3 Q116.6,511.9 116.6,513.4Z" fill="url(#gSem2b)"/><path d="M86.5,515.9 Q87,517 86.5,518.1 Q85.9,519.2 84.2,520 Q82.5,520.9 79.9,521 Q77.3,521.2 75.3,520.3 Q73.3,519.4 72.9,518.2 Q72.5,517 72.6,515.7 Q72.7,514.4 75.2,513.9 Q77.7,513.5 79.9,513.6 Q82.1,513.7 84.1,514.3 Q86,514.8 86.5,515.9Z" fill="url(#gSem2b)"/><path d="M45.4,447.5 Q46.1,450 44.9,452.1 Q43.6,454.3 41.6,455.7 Q39.6,457.2 36.9,457.3 Q34.3,457.5 31.8,456.2 Q29.4,454.9 29,452.4 Q28.6,450 29.2,447.7 Q29.8,445.4 31.9,443.4 Q33.9,441.5 37,441.4 Q40.2,441.3 42.4,443.2 Q44.7,445 45.4,447.5Z" fill="url(#gSem2)"/><path d="M45.4,447.5 Q46.1,450 44.9,452.1 Q43.6,454.3 41.6,455.7 Q39.6,457.2 36.9,457.3 Q34.3,457.5 31.8,456.2 Q29.4,454.9 29,452.4 Q28.6,450 29.2,447.7 Q29.8,445.4 31.9,443.4 Q33.9,441.5 37,441.4 Q40.2,441.3 42.4,443.2 Q44.7,445 45.4,447.5Z" fill="url(#gShade)"/><path d="M66.5,446.2 Q67.8,449 66.5,451.8 Q65.1,454.5 61.8,455.7 Q58.5,457 55,456.9 Q51.6,456.8 48.9,455.3 Q46.2,453.8 43.9,451.4 Q41.6,449 43.1,446.2 Q44.6,443.3 47.7,441.3 Q50.8,439.3 54.6,440.3 Q58.3,441.3 61.8,442.4 Q65.2,443.4 66.5,446.2Z" fill="url(#gSem2)"/><path d="M66.5,446.2 Q67.8,449 66.5,451.8 Q65.1,454.5 61.8,455.7 Q58.5,457 55,456.9 Q51.6,456.8 48.9,455.3 Q46.2,453.8 43.9,451.4 Q41.6,449 43.1,446.2 Q44.6,443.3 47.7,441.3 Q50.8,439.3 54.6,440.3 Q58.3,441.3 61.8,442.4 Q65.2,443.4 66.5,446.2Z" fill="url(#gShade)"/><path d="M95.1,448.9 Q96.2,453 95.1,457.1 Q94.1,461.2 89.8,463.1 Q85.5,465.1 80.6,466.1 Q75.7,467.1 72.8,463.6 Q69.9,460 67.7,456.5 Q65.5,453 66.7,448.9 Q67.9,444.8 71.9,442 Q75.8,439.2 80.9,439.4 Q86,439.7 90,442.2 Q94,444.8 95.1,448.9Z" fill="url(#gSem2)"/><path d="M95.1,448.9 Q96.2,453 95.1,457.1 Q94.1,461.2 89.8,463.1 Q85.5,465.1 80.6,466.1 Q75.7,467.1 72.8,463.6 Q69.9,460 67.7,456.5 Q65.5,453 66.7,448.9 Q67.9,444.8 71.9,442 Q75.8,439.2 80.9,439.4 Q86,439.7 90,442.2 Q94,444.8 95.1,448.9Z" fill="url(#gShade)"/><path d="M135.2,452.5 Q138,458 136,463.9 Q134,469.9 127.3,472.4 Q120.7,474.8 113.7,475.5 Q106.8,476.2 100.4,473 Q94.1,469.8 91.8,463.9 Q89.6,458 92.9,452.7 Q96.2,447.4 101.4,443.4 Q106.6,439.3 114.1,439.2 Q121.5,439 127,443 Q132.5,447 135.2,452.5Z" fill="url(#gSem2)"/><path d="M135.2,452.5 Q138,458 136,463.9 Q134,469.9 127.3,472.4 Q120.7,474.8 113.7,475.5 Q106.8,476.2 100.4,473 Q94.1,469.8 91.8,463.9 Q89.6,458 92.9,452.7 Q96.2,447.4 101.4,443.4 Q106.6,439.3 114.1,439.2 Q121.5,439 127,443 Q132.5,447 135.2,452.5Z" fill="url(#gShade)"/><path d="M49.2,460.7 Q50.6,463 49.2,465.3 Q47.8,467.7 45.2,469.3 Q42.5,470.9 39,470.9 Q35.4,471 33.1,469.1 Q30.8,467.3 29.1,465.2 Q27.4,463 28.1,460.3 Q28.8,457.6 32,456.1 Q35.2,454.5 38.9,454.7 Q42.7,454.8 45.2,456.6 Q47.8,458.3 49.2,460.7Z" fill="url(#gSem2)"/><path d="M49.2,460.7 Q50.6,463 49.2,465.3 Q47.8,467.7 45.2,469.3 Q42.5,470.9 39,470.9 Q35.4,471 33.1,469.1 Q30.8,467.3 29.1,465.2 Q27.4,463 28.1,460.3 Q28.8,457.6 32,456.1 Q35.2,454.5 38.9,454.7 Q42.7,454.8 45.2,456.6 Q47.8,458.3 49.2,460.7Z" fill="url(#gShade)"/><path d="M50.4,474.5 Q51.6,477 50.7,479.8 Q49.7,482.5 47.6,484.1 Q45.5,485.6 42.9,486 Q40.3,486.4 38.7,484.1 Q37.1,481.9 35.7,479.4 Q34.3,477 35.7,474.6 Q37.1,472.2 38.8,470.1 Q40.4,468.1 43,468.2 Q45.5,468.3 47.3,470.1 Q49.2,472 50.4,474.5Z" fill="url(#gSem2)"/><path d="M50.4,474.5 Q51.6,477 50.7,479.8 Q49.7,482.5 47.6,484.1 Q45.5,485.6 42.9,486 Q40.3,486.4 38.7,484.1 Q37.1,481.9 35.7,479.4 Q34.3,477 35.7,474.6 Q37.1,472.2 38.8,470.1 Q40.4,468.1 43,468.2 Q45.5,468.3 47.3,470.1 Q49.2,472 50.4,474.5Z" fill="url(#gShade)"/><path d="M87.3,473.9 Q90.4,478 87.9,482.5 Q85.5,487 80.5,490 Q75.5,493 68.8,493.5 Q62.1,494 57.8,490.2 Q53.5,486.5 52.2,482.2 Q51,478 52.1,473.7 Q53.3,469.4 57.9,466.1 Q62.4,462.8 68.6,463.7 Q74.9,464.5 79.5,467.1 Q84.2,469.7 87.3,473.9Z" fill="url(#gSem2)"/><path d="M87.3,473.9 Q90.4,478 87.9,482.5 Q85.5,487 80.5,490 Q75.5,493 68.8,493.5 Q62.1,494 57.8,490.2 Q53.5,486.5 52.2,482.2 Q51,478 52.1,473.7 Q53.3,469.4 57.9,466.1 Q62.4,462.8 68.6,463.7 Q74.9,464.5 79.5,467.1 Q84.2,469.7 87.3,473.9Z" fill="url(#gShade)"/><path d="M109.2,475.7 Q110.4,480 108.9,484 Q107.3,488.1 104,490.3 Q100.7,492.4 96.8,493.1 Q92.9,493.8 90.2,490.6 Q87.5,487.5 85.9,483.7 Q84.3,480 86,476.4 Q87.8,472.8 90.5,470.2 Q93.3,467.6 97.2,467 Q101.1,466.5 104.5,468.9 Q107.9,471.4 109.2,475.7Z" fill="url(#gSem2)"/><path d="M109.2,475.7 Q110.4,480 108.9,484 Q107.3,488.1 104,490.3 Q100.7,492.4 96.8,493.1 Q92.9,493.8 90.2,490.6 Q87.5,487.5 85.9,483.7 Q84.3,480 86,476.4 Q87.8,472.8 90.5,470.2 Q93.3,467.6 97.2,467 Q101.1,466.5 104.5,468.9 Q107.9,471.4 109.2,475.7Z" fill="url(#gShade)"/><path d="M136.2,487.7 Q137.7,492 135.4,495.8 Q133,499.6 129.4,502.2 Q125.8,504.9 121.2,504.5 Q116.5,504.1 113.1,501.6 Q109.7,499.1 107.7,495.6 Q105.7,492 106.7,487.8 Q107.6,483.6 111.7,481 Q115.9,478.3 120.9,478.5 Q126,478.7 130.3,481.1 Q134.7,483.4 136.2,487.7Z" fill="url(#gSem2)"/><path d="M136.2,487.7 Q137.7,492 135.4,495.8 Q133,499.6 129.4,502.2 Q125.8,504.9 121.2,504.5 Q116.5,504.1 113.1,501.6 Q109.7,499.1 107.7,495.6 Q105.7,492 106.7,487.8 Q107.6,483.6 111.7,481 Q115.9,478.3 120.9,478.5 Q126,478.7 130.3,481.1 Q134.7,483.4 136.2,487.7Z" fill="url(#gShade)"/><path d="M85.9,491.8 Q86.4,498 84.8,503.2 Q83.2,508.5 79.6,512.3 Q76,516.2 71.1,515.8 Q66.2,515.4 62.5,512 Q58.7,508.6 56.9,503.3 Q55,498 56.2,492.1 Q57.4,486.3 61.7,482.9 Q66,479.6 70.9,480 Q75.8,480.4 80.5,483 Q85.3,485.7 85.9,491.8Z" fill="url(#gSem2)"/><path d="M85.9,491.8 Q86.4,498 84.8,503.2 Q83.2,508.5 79.6,512.3 Q76,516.2 71.1,515.8 Q66.2,515.4 62.5,512 Q58.7,508.6 56.9,503.3 Q55,498 56.2,492.1 Q57.4,486.3 61.7,482.9 Q66,479.6 70.9,480 Q75.8,480.4 80.5,483 Q85.3,485.7 85.9,491.8Z" fill="url(#gShade)"/><path d="M111.2,502.2 Q113.2,506 110.6,509.6 Q108.1,513.1 103.8,514.8 Q99.5,516.5 95,516.4 Q90.5,516.3 85.6,515.1 Q80.6,513.8 80.5,509.9 Q80.5,506 80.8,502.2 Q81.1,498.4 85.5,496.3 Q89.9,494.2 94.8,494.5 Q99.8,494.9 104.5,496.6 Q109.1,498.3 111.2,502.2Z" fill="url(#gSem2)"/><path d="M111.2,502.2 Q113.2,506 110.6,509.6 Q108.1,513.1 103.8,514.8 Q99.5,516.5 95,516.4 Q90.5,516.3 85.6,515.1 Q80.6,513.8 80.5,509.9 Q80.5,506 80.8,502.2 Q81.1,498.4 85.5,496.3 Q89.9,494.2 94.8,494.5 Q99.8,494.9 104.5,496.6 Q109.1,498.3 111.2,502.2Z" fill="url(#gShade)"/><path d="M135.2,506.3 Q135.7,509 134.8,511.5 Q133.8,513.9 130.9,515.8 Q128.1,517.6 124.2,517.2 Q120.4,516.7 116.4,515.8 Q112.4,514.8 112,511.9 Q111.6,509 112.9,506.5 Q114.2,504.1 117.3,502.6 Q120.3,501.2 124.3,500.6 Q128.2,500 131.4,501.8 Q134.6,503.7 135.2,506.3Z" fill="url(#gSem2)"/><path d="M135.2,506.3 Q135.7,509 134.8,511.5 Q133.8,513.9 130.9,515.8 Q128.1,517.6 124.2,517.2 Q120.4,516.7 116.4,515.8 Q112.4,514.8 112,511.9 Q111.6,509 112.9,506.5 Q114.2,504.1 117.3,502.6 Q120.3,501.2 124.3,500.6 Q128.2,500 131.4,501.8 Q134.6,503.7 135.2,506.3Z" fill="url(#gShade)"/><path d="M37.6,498.5 Q38.3,503 37.7,507.7 Q37.1,512.3 35.6,515.5 Q34,518.6 32,518.9 Q29.9,519.2 28.4,515.8 Q26.8,512.4 26.6,507.7 Q26.3,503 26.7,498.5 Q27.1,494.1 28.7,491.8 Q30.3,489.6 32,489.9 Q33.7,490.2 35.3,492.1 Q36.9,494.1 37.6,498.5Z" fill="url(#gSem2)"/><path d="M37.6,498.5 Q38.3,503 37.7,507.7 Q37.1,512.3 35.6,515.5 Q34,518.6 32,518.9 Q29.9,519.2 28.4,515.8 Q26.8,512.4 26.6,507.7 Q26.3,503 26.7,498.5 Q27.1,494.1 28.7,491.8 Q30.3,489.6 32,489.9 Q33.7,490.2 35.3,492.1 Q36.9,494.1 37.6,498.5Z" fill="url(#gShade)"/><path d="M65.8,505.1 Q66.7,508 65.2,510.5 Q63.6,513 61.3,514.6 Q59,516.3 56,516.3 Q53,516.4 50.2,515 Q47.4,513.7 46.6,510.8 Q45.8,508 46.6,505.2 Q47.5,502.5 50.1,500.6 Q52.7,498.7 55.9,499.1 Q59.1,499.5 62,500.9 Q64.8,502.2 65.8,505.1Z" fill="url(#gSem2)"/><path d="M65.8,505.1 Q66.7,508 65.2,510.5 Q63.6,513 61.3,514.6 Q59,516.3 56,516.3 Q53,516.4 50.2,515 Q47.4,513.7 46.6,510.8 Q45.8,508 46.6,505.2 Q47.5,502.5 50.1,500.6 Q52.7,498.7 55.9,499.1 Q59.1,499.5 62,500.9 Q64.8,502.2 65.8,505.1Z" fill="url(#gShade)"/><path d="M54.9,489.9 Q55.8,492 54.5,493.9 Q53.2,495.8 51.8,497.6 Q50.4,499.5 48.1,499.3 Q45.7,499.2 44.2,497.5 Q42.7,495.8 41.8,493.9 Q40.9,492 41.5,489.8 Q42,487.7 43.8,486.1 Q45.6,484.5 47.9,485 Q50.1,485.4 52,486.6 Q53.9,487.7 54.9,489.9Z" fill="url(#gSem2)"/><path d="M54.9,489.9 Q55.8,492 54.5,493.9 Q53.2,495.8 51.8,497.6 Q50.4,499.5 48.1,499.3 Q45.7,499.2 44.2,497.5 Q42.7,495.8 41.8,493.9 Q40.9,492 41.5,489.8 Q42,487.7 43.8,486.1 Q45.6,484.5 47.9,485 Q50.1,485.4 52,486.6 Q53.9,487.7 54.9,489.9Z" fill="url(#gShade)"/><path d="M136.9,466.8 Q137.7,470 137,473.2 Q136.3,476.4 134.7,478.6 Q133.1,480.7 131.1,480.2 Q129.1,479.6 127.5,477.9 Q125.9,476.2 125.6,473.1 Q125.3,470 125.5,466.8 Q125.8,463.7 127.4,461.6 Q129,459.6 131,459.8 Q133,460 134.6,461.8 Q136.2,463.7 136.9,466.8Z" fill="url(#gSem2)"/><path d="M136.9,466.8 Q137.7,470 137,473.2 Q136.3,476.4 134.7,478.6 Q133.1,480.7 131.1,480.2 Q129.1,479.6 127.5,477.9 Q125.9,476.2 125.6,473.1 Q125.3,470 125.5,466.8 Q125.8,463.7 127.4,461.6 Q129,459.6 131,459.8 Q133,460 134.6,461.8 Q136.2,463.7 136.9,466.8Z" fill="url(#gShade)"/><path d="M109,439.8 Q109.6,441 109.4,442.3 Q109.2,443.6 107,444.5 Q104.8,445.3 102,445.3 Q99.2,445.3 97.3,444.4 Q95.3,443.4 94.3,442.2 Q93.3,441 94.5,439.9 Q95.7,438.7 97.5,437.7 Q99.2,436.7 102,436.8 Q104.7,436.8 106.5,437.7 Q108.4,438.7 109,439.8Z" fill="url(#gSem2)"/><path d="M109,439.8 Q109.6,441 109.4,442.3 Q109.2,443.6 107,444.5 Q104.8,445.3 102,445.3 Q99.2,445.3 97.3,444.4 Q95.3,443.4 94.3,442.2 Q93.3,441 94.5,439.9 Q95.7,438.7 97.5,437.7 Q99.2,436.7 102,436.8 Q104.7,436.8 106.5,437.7 Q108.4,438.7 109,439.8Z" fill="url(#gShade)"/><path d="M71,440.2 Q71.5,441 71.2,441.9 Q70.9,442.8 69.4,443.4 Q67.9,443.9 66,444 Q64,444.1 62.5,443.4 Q61.1,442.8 60.8,441.9 Q60.6,441 60.6,440 Q60.7,439.1 62.5,438.7 Q64.3,438.4 66.2,438.1 Q68,437.9 69.3,438.6 Q70.6,439.3 71,440.2Z" fill="url(#gSem2)"/><path d="M71,440.2 Q71.5,441 71.2,441.9 Q70.9,442.8 69.4,443.4 Q67.9,443.9 66,444 Q64,444.1 62.5,443.4 Q61.1,442.8 60.8,441.9 Q60.6,441 60.6,440 Q60.7,439.1 62.5,438.7 Q64.3,438.4 66.2,438.1 Q68,437.9 69.3,438.6 Q70.6,439.3 71,440.2Z" fill="url(#gShade)"/><circle cx="43" cy="477" r="4" fill="none" stroke="#c8c8c8" stroke-width="1.2" opacity="0.6"/></g></svg><path d="M30,503V500.5H40.6V503" stroke="#fff" stroke-width="1.2" fill="none"/><text x="28.4" y="511.6" style="font-family:'Liberation Sans',Arial,sans-serif;font-size:8.1px;font-weight:bold" fill="#fff" stroke="#fff" stroke-width="0.2" transform="matrix(1,0,0,1.1,0,-51.16)">1 μm</text>
<svg x="138.3" y="355.6" width="70.9" height="71.4" viewBox="138.3 355.6 70.9 71.4" overflow="hidden"><g filter="url(#fSem3)"><rect x="138.3" y="355.6" width="70.9" height="71.4" fill="#8a8a8a"/><g filter="url(#fBl1)"><path d="M136,353 L164,353 Q150,361 142,374 L136,374Z" fill="#505050"/><path d="M140,373 Q145,361 159,360 Q170,363 171,376 Q169,389 157,393 Q145,394 140,385Z" fill="url(#gS3a)" stroke="#e4e4e4" stroke-width="1.3"/><path d="M164,357 Q178,352 193,357 Q198,366 194,375 Q182,379 170,375 Q163,368 164,357Z" fill="url(#gS3a)" stroke="#e4e4e4" stroke-width="1.3"/><path d="M191,357 L210,355 L210,393 Q200,395 194,389 Q189,376 191,357Z" fill="url(#gS3b)" stroke="#e4e4e4" stroke-width="1.3"/><path d="M167,379 Q182,372 198,380 Q205,392 199,405 Q184,409 172,403 Q164,393 167,379Z" fill="url(#gS3a)" stroke="#e4e4e4" stroke-width="1.3"/><path d="M142,396 Q156,392 170,400 Q180,410 178,428 L142,428 Q137,411 142,396Z" fill="url(#gS3b)" stroke="#e4e4e4" stroke-width="1.3"/><path d="M177,405 Q193,401 210,405 L210,428 L179,428 Q175,415 177,405Z" fill="url(#gS3a)" stroke="#e4e4e4" stroke-width="1.3"/><path d="M157,393 Q163,397 172,403 M171,375 Q169,378 167,379 M194,389 Q197,397 199,405 M179,428 Q176,415 177,405 M140,385 Q141,392 142,396" fill="none" stroke="#4a4a4a" stroke-width="1.6"/><path d="M136,402 Q140,416 146,429 L136,429Z" fill="#747474"/></g></g></svg><path d="M167.3,406.8L209.2,355.8M167.3,417.7L209.2,426.8" stroke="#fff" stroke-width="0.9" stroke-dasharray="2,1.3"/><rect x="156.2" y="407.2" width="10.8" height="10.4" fill="#ec7ed4" stroke="#fff" stroke-width="0.8"/>
<rect x="209.7" y="355.6" width="67.8" height="71.2" filter="url(#fCa)"/><text x="215.5" y="368.8" style="font-family:'Liberation Sans',Arial,sans-serif;font-size:10.6px;font-weight:bold" fill="#fff" stroke="#fff" stroke-width="0.2" transform="matrix(1,0,0,1.1,0,-36.88)">Ca kα1</text>
<rect x="277.5" y="355.6" width="68.3" height="71.2" filter="url(#fZn)"/><rect x="277.5" y="355.6" width="68.3" height="71.2" fill="url(#ovZn)"/><text x="284.5" y="368.8" style="font-family:'Liberation Sans',Arial,sans-serif;font-size:10.6px;font-weight:bold" fill="#fff" stroke="#fff" stroke-width="0.2" transform="matrix(1,0,0,1.1,0,-36.88)">Zn Lα1,2</text>
<rect x="138.3" y="439.8" width="70.2" height="71.6" filter="url(#fO)"/><rect x="138.3" y="439.8" width="70.2" height="71.6" fill="url(#ovO)"/><text x="143.5" y="451.3" style="font-family:'Liberation Sans',Arial,sans-serif;font-size:10.6px;font-weight:bold" fill="#fff" stroke="#fff" stroke-width="0.2" transform="matrix(1,0,0,1.1,0,-45.13)">O kα1</text>
<rect x="208.5" y="439.8" width="69" height="71.6" filter="url(#fS)"/><text x="215.5" y="451.3" style="font-family:'Liberation Sans',Arial,sans-serif;font-size:10.6px;font-weight:bold" fill="#fff" stroke="#fff" stroke-width="0.2" transform="matrix(1,0,0,1.1,0,-45.13)">S kα1</text>
<rect x="277.5" y="439.8" width="68" height="71.6" filter="url(#fMn)"/><text x="284.5" y="451.3" style="font-family:'Liberation Sans',Arial,sans-serif;font-size:10.6px;font-weight:bold" fill="#fff" stroke="#fff" stroke-width="0.2" transform="matrix(1,0,0,1.1,0,-45.13)">Mn kα1</text>
<path d="M139.4,429.8v5.6M139.4,429.8h35.3M174.7,429.8v3" fill="none" stroke="#111" stroke-width="1.1"/><text x="144" y="437.9" style="font-family:'Liberation Sans',Arial,sans-serif;font-size:8.2px;font-weight:bold" fill="#111" stroke="#111" stroke-width="0.2" transform="matrix(1,0,0,1.1,0,-43.79)">1 μm</text>
<path d="M210,429.8v5.6M210,429.8h35.7M245.7,429.8v3" fill="none" stroke="#111" stroke-width="1.1"/><text x="212" y="437.9" style="font-family:'Liberation Sans',Arial,sans-serif;font-size:8.2px;font-weight:bold" fill="#111" stroke="#111" stroke-width="0.2" transform="matrix(1,0,0,1.1,0,-43.79)">100 nm</text>
<path d="M278.9,429.8v5.6M278.9,429.8h35.8M314.7,429.8v3" fill="none" stroke="#111" stroke-width="1.1"/><text x="280.9" y="437.9" style="font-family:'Liberation Sans',Arial,sans-serif;font-size:8.2px;font-weight:bold" fill="#111" stroke="#111" stroke-width="0.2" transform="matrix(1,0,0,1.1,0,-43.79)">100 nm</text>
<path d="M139.4,513.5v5.6M139.4,513.5h36M175.4,513.5v3" fill="none" stroke="#111" stroke-width="1.1"/><text x="141.4" y="521.6" style="font-family:'Liberation Sans',Arial,sans-serif;font-size:8.2px;font-weight:bold" fill="#111" stroke="#111" stroke-width="0.2" transform="matrix(1,0,0,1.1,0,-52.16)">100 nm</text>
<path d="M209.3,513.5v5.6M209.3,513.5h36M245.3,513.5v3" fill="none" stroke="#111" stroke-width="1.1"/><text x="211.3" y="521.6" style="font-family:'Liberation Sans',Arial,sans-serif;font-size:8.2px;font-weight:bold" fill="#111" stroke="#111" stroke-width="0.2" transform="matrix(1,0,0,1.1,0,-52.16)">100 nm</text>
<path d="M278.5,513.5v5.6M278.5,513.5h36M314.5,513.5v3" fill="none" stroke="#111" stroke-width="1.1"/><text x="280.5" y="521.6" style="font-family:'Liberation Sans',Arial,sans-serif;font-size:8.2px;font-weight:bold" fill="#111" stroke="#111" stroke-width="0.2" transform="matrix(1,0,0,1.1,0,-52.16)">100 nm</text>
<svg x="366.2" y="5.5" width="178.8" height="168" viewBox="366.2 5.5 178.8 168" overflow="hidden">
<g filter="url(#fTem)">
<rect x="366.2" y="5.5" width="178.8" height="168" fill="url(#gTemX)"/>
<g filter="url(#fBl3)">
<rect x="449" y="5.5" width="13" height="84" fill="url(#gTemStrip)"/>
<ellipse cx="428" cy="108" rx="28" ry="22" fill="#4e4e4e" opacity="0.35"/>
<ellipse cx="437" cy="123" rx="6" ry="4" fill="#303030" opacity="0.6"/>
<ellipse cx="392" cy="152" rx="30" ry="18" fill="#7e7e7e" opacity="0.35"/>
<path d="M463,89 Q470,120 472,173.5 L480,173.5 Q478,120 470,89Z" fill="#a8a8a8" opacity="0.6"/>
<ellipse cx="496" cy="129" rx="9" ry="4" fill="#505050" opacity="0.5"/>
<ellipse cx="484" cy="156" rx="8" ry="10" fill="#606060" opacity="0.4"/>
</g>
<path d="M520,89 Q516,100 520,112 Q514,125 517,135 Q510,148 511,160 L508,173.5 L545,173.5 L545,89Z" fill="#b2b2b2"/>
<path d="M520,89 Q516,100 520,112 Q514,125 517,135 Q510,148 511,160 L508,173.5" fill="none" stroke="#555" stroke-width="0.8" opacity="0.7"/>
</g>
<g filter="url(#fTem2)">
<rect x="366.2" y="5.5" width="82.8" height="83.5" fill="#808080"/>
<g filter="url(#fBl3)">
<ellipse cx="429" cy="19" rx="15" ry="18" fill="#383838" opacity="0.75"/>
<ellipse cx="376" cy="50" rx="14" ry="38" fill="#969696" opacity="0.55"/>
<path d="M388,48 Q408,58 426,89 L402,89 Q394,72 380,60Z" fill="#444" opacity="0.6"/>
</g>
<rect x="366.2" y="5.5" width="82.8" height="83.5" fill="url(#pFr)" opacity="0.35"/>
</g></svg>
<rect x="461.6" y="5.6" width="83.4" height="83.4" fill="#000"/>
<line x1="497" y1="40" x2="504" y2="48" stroke="#f3b010" stroke-width="1.3"/>
<circle cx="497" cy="40" r="1" fill="#ddd"/><circle cx="504" cy="48" r="1.1" fill="#ddd"/><circle cx="511" cy="57" r="0.8" fill="#ccc"/>
<text x="506.5" y="40.5" style="font-family:'Liberation Sans',Arial,sans-serif;font-size:6.5px;font-weight:bold" fill="#f3b010" stroke="#f3b010" stroke-width="0.2" transform="matrix(1,0,0,1.1,0,-4.05)">(004)</text>
<text x="468.2" y="79.8" style="font-family:'Liberation Serif','Times New Roman',serif;font-size:10.3px;letter-spacing:0.55px" fill="#fff" stroke="#fff" stroke-width="0.2" transform="matrix(1,0,0,1.1,0,-7.98)">10 1/nm</text>
<rect x="467" y="82.7" width="32" height="1.6" fill="#fff"/>
<path d="M450.8,5.5L463.4,126.6M366.2,92L442.2,147.2" stroke="#f3b010" stroke-width="1.5" stroke-dasharray="4,2"/>
<rect x="442.2" y="126.6" width="21.2" height="20.6" fill="none" stroke="#f3b010" stroke-width="1.3"/>
<path d="M380.6,62.6L397.8,50.6M382.1,64.9L399.3,52.9" stroke="#f3b010" stroke-width="1.15"/>
<path d="M379.2,48.4L387.4,54.6M392.4,60.6L400.8,67.4" stroke="#f3b010" stroke-width="1.9"/>
<text x="400" y="31.8" style="font-family:'Liberation Sans',Arial,sans-serif;font-size:8px;font-weight:bold" fill="#f3b010" stroke="#f3b010" stroke-width="0.35" transform="matrix(1,0,0,1.1,0,-3.18)">(004)</text>
<text x="400" y="46.8" style="font-family:'Liberation Sans',Arial,sans-serif;font-size:8px;font-weight:bold" fill="#f3b010" stroke="#f3b010" stroke-width="0.35" transform="matrix(1,0,0,1.1,0,-4.68)">d = 0.285 nm</text>
<rect x="370" y="161.6" width="20.2" height="1.1" fill="#111"/>
<text x="370.5" y="159.5" style="font-family:'Liberation Sans',Arial,sans-serif;font-size:5.8px" fill="#222" stroke="#222" stroke-width="0.2" transform="matrix(1,0,0,1.1,0,-15.95)">20 nm</text>
<text x="343.8" y="21.2" style="font-family:'Liberation Sans',Arial,sans-serif;font-size:17.2px;font-weight:bold" fill="#000" stroke="#000" stroke-width="0.2" transform="matrix(1,0,0,1.1,0,-2.12)">(d)</text>
<rect x="366.6" y="178.6" width="177.8" height="150.2" fill="url(#gEpr)"/>
<path d="M366.6,258.6H437 L436.9,258.6 L441.9,258.6 L446.6,258.6 L451.8,258.6 L456.9,258.6 L462,258.6 L544.4,258.6" fill="none" stroke="#f8d84a" stroke-width="1"/>
<path d="M437.5,248V271.5M442.5,248V271.5M447.2,248V271.5M452.4,248V271.5M457.5,248V271.5M462.6,248V271.5" fill="none" stroke="#f6d038" stroke-width="0.9"/>
<path d="M438.1,257.6l1.2,1.2l-1.2,1.2M443.1,257.6l1.2,1.2l-1.2,1.2M447.8,257.6l1.2,1.2l-1.2,1.2M453,257.6l1.2,1.2l-1.2,1.2M458.1,257.6l1.2,1.2l-1.2,1.2M463.2,257.6l1.2,1.2l-1.2,1.2" fill="none" stroke="#f0c030" stroke-width="0.7"/>
<path d="M366.6,258.2 369.3,258.3 372,258.3 374.6,258.4 377.3,259.3 380,257.5 383,258.7 386,257.4 389,259 392,256.9 395,258.5 398,257 401,258 404,256.7 407,257.8 410,256.2 413.3,256.8 416.7,255.5 420,255.5 423,251.7 426,253.8 429,248.6 432,248.9 436,241.1 437.7,239.1 439,231.1 441.7,220.7 444,208 447.2,199 448.2,215 449,243 450,258.7 451,285 452.8,320.7 454.5,312 456.2,295.6 457.5,290 458.9,284.1 461,283.9 462.8,279 464,270.8 466,266 468,266.9 473,262.1 475.9,264.6 478.7,261.7 481.4,263.4 484,261.1 487,262.3 490,259.5 493,260.6 496,258.9 499,259.7 502,259 505,258.8 508,258.8 511,258.8 514,258.8 517,258.8 520,258.8 522.7,258.8 525.4,258.8 528.1,258.9 530.8,258.9 533.6,258.9 536.3,258.9 539,259 541.7,259 544.4,259" fill="none" stroke="#f5884a" stroke-width="0.9" stroke-linejoin="round"/>
<rect x="366.6" y="178.6" width="177.8" height="150.2" fill="none" stroke="#333" stroke-width="1.2"/>
<path d="M377.1,328.8v1.6M391.6,328.8v2.6M406.1,328.8v1.6M420.6,328.8v2.6M435.1,328.8v1.6M449.6,328.8v2.6M464.1,328.8v1.6M478.6,328.8v2.6M493.1,328.8v1.6M507.6,328.8v2.6M522.1,328.8v1.6M536.6,328.8v2.6" stroke="#222" stroke-width="0.9"/>
<text x="391.6" y="340" text-anchor="middle" style="font-family:'Liberation Sans',Arial,sans-serif;font-size:7.6px" fill="#111" stroke="#111" stroke-width="0.2" transform="matrix(1,0,0,1.1,0,-34.00)">2500</text>
<text x="420.6" y="340" text-anchor="middle" style="font-family:'Liberation Sans',Arial,sans-serif;font-size:7.6px" fill="#111" stroke="#111" stroke-width="0.2" transform="matrix(1,0,0,1.1,0,-34.00)">3000</text>
<text x="449.6" y="340" text-anchor="middle" style="font-family:'Liberation Sans',Arial,sans-serif;font-size:7.6px" fill="#111" stroke="#111" stroke-width="0.2" transform="matrix(1,0,0,1.1,0,-34.00)">3500</text>
<text x="478.6" y="340" text-anchor="middle" style="font-family:'Liberation Sans',Arial,sans-serif;font-size:7.6px" fill="#111" stroke="#111" stroke-width="0.2" transform="matrix(1,0,0,1.1,0,-34.00)">4000</text>
<text x="507.6" y="340" text-anchor="middle" style="font-family:'Liberation Sans',Arial,sans-serif;font-size:7.6px" fill="#111" stroke="#111" stroke-width="0.2" transform="matrix(1,0,0,1.1,0,-34.00)">4500</text>
<text x="536.6" y="340" text-anchor="middle" style="font-family:'Liberation Sans',Arial,sans-serif;font-size:7.6px" fill="#111" stroke="#111" stroke-width="0.2" transform="matrix(1,0,0,1.1,0,-34.00)">5000</text>
<text x="455" y="352" text-anchor="middle" style="font-family:'Liberation Sans',Arial,sans-serif;font-size:9.6px" fill="#111" stroke="#111" stroke-width="0.2" transform="matrix(1,0,0,1.1,0,-35.20)">Field (Guass)</text>
<text transform="translate(360.6,248.7) rotate(-90)" text-anchor="middle" style="font-family:'Liberation Sans',Arial,sans-serif;font-size:9.2px" fill="#111" stroke="#111" stroke-width="0.2">EPR Intensity (a.u.)</text>
<path d="M368,185.3H383" stroke="#f8dc60" stroke-width="1"/><path d="M368,195.3H383" stroke="#f5905a" stroke-width="1"/>
<text x="383.6" y="187.7" style="font-family:'Liberation Sans',Arial,sans-serif;font-size:7.6px" fill="#222" stroke="#222" stroke-width="0.2" transform="matrix(1,0,0,1.1,0,-18.77)">Undoped CaZnOS</text>
<text x="383.6" y="197.7" style="font-family:'Liberation Sans',Arial,sans-serif;font-size:7.6px" fill="#222" stroke="#222" stroke-width="0.2" transform="matrix(1,0,0,1.1,0,-19.77)">CaZnOS:0.03Mn<tspan font-size="4.6px" dy="-3">2+</tspan></text>
<text x="344.6" y="195.2" style="font-family:'Liberation Sans',Arial,sans-serif;font-size:17.2px;font-weight:bold" fill="#000" stroke="#000" stroke-width="0.2" transform="matrix(1,0,0,1.1,0,-19.52)">(e)</text>
<rect x="368" y="357.4" width="176" height="140.1" fill="url(#gXps)"/>
<path d="M368.6,427.3 371,429 372.5,429.5 374,430 376,429.2 378,428.5 379.7,427.5 381.5,426.5 383.2,425.5 384.6,423.6 385.6,425.5 386.4,429.5 387.2,427.5 388.2,431 389.5,431 391.2,430.2 392.9,429.4 394.6,428.6 396.3,427.8 398,427 399.8,426.1 401.5,425.3 403.3,424.4 405,423.6 406.8,422.7 407.6,421.5 408.2,420 408.4,434 408.8,398.5 409.2,434.5 408.8,434 410,433 410.6,422 411,434.5 411.4,374.2 411.8,435 411.4,434.5 413,434 414,437 416,435 417.5,438 419.5,439 421,438.1 422.5,437.3 424,436.4 425.5,435.6 427,434.7 428.5,433.9 430,433 431.7,432.2 433.3,431.3 435,430.5 436.7,429.7 438.3,428.8 440,428 441.7,427.1 443.3,426.2 445,425.3 446.7,424.4 448.3,423.5 450,422.6 451.5,421.6 453,420.6 454.5,419.5 456,418.5 457.5,417.4 459,416.4 460.2,418.6 461.7,418.6 463.2,418.6 464.7,418.6 467,416.5 467.6,415.2 468.5,419 469.2,420.9 470.9,423.8 472.6,426.6 474.4,433.3 475.2,434.5 475.3,435.6 475.7,383.3 476.1,436.1 476.7,435.6 479,436.7 479.8,437 479.6,448 480,416.4 480.4,448.5 480.5,448 482.8,449.2 483.5,447 484,450 486.2,454.8 487,455 486.9,456 487.3,446.9 487.7,456.5 488.5,456 490.2,456.2 491.9,456.4 493.6,456.6 495.2,456.7 496.9,456.9 498.6,457.1 498.9,458 499.3,429.3 499.7,458.5 499.8,458 500.2,462.8 501.8,463.1 503.4,463.4 505,463.6 506.6,463.9 507.2,464 507.3,464.2 507.7,436.7 508.1,464.7 508.2,464.2 509.8,464.4 511.4,464.6 512.9,464.8 514.5,465 515.2,464.6 515.6,455.5 516,465.1 516.7,464.6 518.6,465.3 520.5,466.1 522.4,466.8 523.1,467.3 523.5,449.2 523.9,467.8 524.7,467.3 526.6,466 527,462.5 527.4,466.5 527,466 528.9,467.6 530.7,469.1 532.6,470.7 532.9,474 533.3,456 533.6,474.5 534.2,474 535.8,474.3 537.4,474.6 538.9,474.9 540.5,475.2 541.2,476.3 541.6,465 542,476.8 542.8,476.3 543.9,478.6" fill="none" stroke="#f3aa22" stroke-width="1.05" stroke-linejoin="round"/>
<rect x="374.3" y="442.4" width="66.4" height="44.5" fill="#fff" stroke="#333" stroke-width="0.7"/>
<path d="M374.3,451.4 375.6,451.3 377,450.7 378,453.5 379,450.6 380,452.5 381,453.3 382,449.7 383,450.7 384,450.8 385,448.5 386,449.6 387.3,449.5 388.6,447.3 390,451.8 391,452.1 392,454.7 393,456.6 394,460.7 395,464.9 396,466.3 397,469.7 398,470.9 399,474.9 400,474.6 401,477.2 402,479.1 403,479.8 404,479.2 405,478.5 406,479.4 407,479.4 408,479.8 409,481.9 410,479.9 411,482.2 412,482 413,478.8 414,479.8 415,480 416,477.9 417,478.9 418,480.3 419,477 420,478.3 421,476 422,477 423,477.5 424,474.4 425,474.1 426,474.8 427,476.8 428,475.3 429,476.3 430,478.5 431,480.8 432,479.7 433,479.9 434,481 435,479.3 436,481.3 436.9,479.6 437.9,481 438.8,482 439.8,478.6 440.7,480" fill="none" stroke="#f3aa22" stroke-width="0.95" stroke-linejoin="round"/>
<text x="386" y="449" style="font-family:'Liberation Sans',Arial,sans-serif;font-size:3.4px;font-weight:bold" fill="#222" stroke="#222" stroke-width="0.2" transform="matrix(1,0,0,1.1,0,-44.90)">Mn<tspan font-size="2.2px" dy="0.8">2p1/2</tspan></text>
<text x="418" y="474" style="font-family:'Liberation Sans',Arial,sans-serif;font-size:3.4px;font-weight:bold" fill="#222" stroke="#222" stroke-width="0.2" transform="matrix(1,0,0,1.1,0,-47.40)">Mn<tspan font-size="2.2px" dy="0.8">2p3/2</tspan></text>
<text x="376" y="490.5" text-anchor="middle" style="font-family:'Liberation Sans',Arial,sans-serif;font-size:2.8px;font-weight:bold" fill="#222" stroke="#222" stroke-width="0.2" transform="matrix(1,0,0,1.1,0,-49.05)">660</text>
<text x="388.6" y="490.5" text-anchor="middle" style="font-family:'Liberation Sans',Arial,sans-serif;font-size:2.8px;font-weight:bold" fill="#222" stroke="#222" stroke-width="0.2" transform="matrix(1,0,0,1.1,0,-49.05)">655</text>
<text x="401.2" y="490.5" text-anchor="middle" style="font-family:'Liberation Sans',Arial,sans-serif;font-size:2.8px;font-weight:bold" fill="#222" stroke="#222" stroke-width="0.2" transform="matrix(1,0,0,1.1,0,-49.05)">650</text>
<text x="413.8" y="490.5" text-anchor="middle" style="font-family:'Liberation Sans',Arial,sans-serif;font-size:2.8px;font-weight:bold" fill="#222" stroke="#222" stroke-width="0.2" transform="matrix(1,0,0,1.1,0,-49.05)">645</text>
<text x="426.4" y="490.5" text-anchor="middle" style="font-family:'Liberation Sans',Arial,sans-serif;font-size:2.8px;font-weight:bold" fill="#222" stroke="#222" stroke-width="0.2" transform="matrix(1,0,0,1.1,0,-49.05)">640</text>
<text x="439" y="490.5" text-anchor="middle" style="font-family:'Liberation Sans',Arial,sans-serif;font-size:2.8px;font-weight:bold" fill="#222" stroke="#222" stroke-width="0.2" transform="matrix(1,0,0,1.1,0,-49.05)">635</text>
<text x="407.5" y="494.6" text-anchor="middle" style="font-family:'Liberation Sans',Arial,sans-serif;font-size:3px;font-weight:bold" fill="#222" stroke="#222" stroke-width="0.2" transform="matrix(1,0,0,1.1,0,-49.46)">Binding Energy (eV)</text>
<text transform="translate(372.4,465) rotate(-90)" text-anchor="middle" style="font-family:'Liberation Sans',Arial,sans-serif;font-size:2.8px;font-weight:bold" fill="#222" stroke="#222" stroke-width="0.2">XPS Intensity (a.u.)</text>
<rect x="368" y="357.4" width="176" height="140.1" fill="none" stroke="#333" stroke-width="1.2"/>
<path d="M544.5,497.5v2.6M531.4,497.5v1.6M518.3,497.5v2.6M505.1,497.5v1.6M492,497.5v2.6M478.9,497.5v1.6M465.8,497.5v2.6M452.7,497.5v1.6M439.5,497.5v2.6M426.4,497.5v1.6M413.3,497.5v2.6M400.2,497.5v1.6M387.1,497.5v2.6M373.9,497.5v1.6" stroke="#222" stroke-width="0.9"/>
<text x="544.5" y="509.4" text-anchor="middle" style="font-family:'Liberation Sans',Arial,sans-serif;font-size:9.2px" fill="#111" stroke="#111" stroke-width="0.2" transform="matrix(1,0,0,1.1,0,-50.94)">0</text>
<text x="518.3" y="509.4" text-anchor="middle" style="font-family:'Liberation Sans',Arial,sans-serif;font-size:9.2px" fill="#111" stroke="#111" stroke-width="0.2" transform="matrix(1,0,0,1.1,0,-50.94)">200</text>
<text x="492" y="509.4" text-anchor="middle" style="font-family:'Liberation Sans',Arial,sans-serif;font-size:9.2px" fill="#111" stroke="#111" stroke-width="0.2" transform="matrix(1,0,0,1.1,0,-50.94)">400</text>
<text x="465.8" y="509.4" text-anchor="middle" style="font-family:'Liberation Sans',Arial,sans-serif;font-size:9.2px" fill="#111" stroke="#111" stroke-width="0.2" transform="matrix(1,0,0,1.1,0,-50.94)">600</text>
<text x="439.5" y="509.4" text-anchor="middle" style="font-family:'Liberation Sans',Arial,sans-serif;font-size:9.2px" fill="#111" stroke="#111" stroke-width="0.2" transform="matrix(1,0,0,1.1,0,-50.94)">800</text>
<text x="413.3" y="509.4" text-anchor="middle" style="font-family:'Liberation Sans',Arial,sans-serif;font-size:9.2px" fill="#111" stroke="#111" stroke-width="0.2" transform="matrix(1,0,0,1.1,0,-50.94)">1000</text>
<text x="387.1" y="509.4" text-anchor="middle" style="font-family:'Liberation Sans',Arial,sans-serif;font-size:9.2px" fill="#111" stroke="#111" stroke-width="0.2" transform="matrix(1,0,0,1.1,0,-50.94)">1200</text>
<text x="457.3" y="523.6" text-anchor="middle" style="font-family:'Liberation Sans',Arial,sans-serif;font-size:9.3px" fill="#111" stroke="#111" stroke-width="0.2" transform="matrix(1,0,0,1.1,0,-52.36)">Binding Energy (eV)</text>
<text transform="translate(361.2,425.3) rotate(-90)" text-anchor="middle" style="font-family:'Liberation Sans',Arial,sans-serif;font-size:9.2px" fill="#111" stroke="#111" stroke-width="0.2">XPS Intensity (a.u.)</text>
<path d="M464,365.6H476" stroke="#f3aa22" stroke-width="1.2"/>
<text x="481" y="368.4" style="font-family:'Liberation Sans',Arial,sans-serif;font-size:7.6px" fill="#222" stroke="#222" stroke-width="0.2" transform="matrix(1,0,0,1.1,0,-36.84)">CaZnOS:0.03Mn<tspan font-size="4.6px" dy="-3">2+</tspan></text>
<text x="350.2" y="371.8" style="font-family:'Liberation Sans',Arial,sans-serif;font-size:17.4px;font-weight:bold" fill="#000" stroke="#000" stroke-width="0.2" transform="matrix(1,0,0,1.1,0,-37.18)">(f)</text>
<text x="408.2" y="372.6" style="font-family:'Liberation Sans',Arial,sans-serif;font-size:5.8px" fill="#2a2a2a" stroke="none" transform="matrix(1,0,0,1.1,0,-37.26)">Zn<tspan font-size="3.4px" dy="1.6">2p3/2</tspan></text>
<text x="397.2" y="395.4" style="font-family:'Liberation Sans',Arial,sans-serif;font-size:5.8px" fill="#2a2a2a" stroke="none" transform="matrix(1,0,0,1.1,0,-39.54)">Zn<tspan font-size="3.4px" dy="1.6">2p1/2</tspan></text>
<text x="386" y="423.4" style="font-family:'Liberation Sans',Arial,sans-serif;font-size:5.8px" fill="#2a2a2a" stroke="none" transform="matrix(1,0,0,1.1,0,-42.34)">Zn<tspan font-size="3.4px" dy="1.6">2s</tspan></text>
<text x="474.4" y="382" style="font-family:'Liberation Sans',Arial,sans-serif;font-size:5.8px" fill="#2a2a2a" stroke="none" transform="matrix(1,0,0,1.1,0,-38.20)">O<tspan font-size="3.4px" dy="1.6">1s</tspan></text>
<text x="462.4" y="413.5" style="font-family:'Liberation Sans',Arial,sans-serif;font-size:5.8px" fill="#2a2a2a" stroke="none" transform="matrix(1,0,0,1.1,0,-41.35)">Mn<tspan font-size="3.4px" dy="1.6">2p</tspan></text>
<text x="477.6" y="414.5" style="font-family:'Liberation Sans',Arial,sans-serif;font-size:5.8px" fill="#2a2a2a" stroke="none" transform="matrix(1,0,0,1.1,0,-41.45)">Zn<tspan font-size="3.4px" dy="1.6">LMM</tspan></text>
<text x="495.2" y="427.5" style="font-family:'Liberation Sans',Arial,sans-serif;font-size:5.8px" fill="#2a2a2a" stroke="none" transform="matrix(1,0,0,1.1,0,-42.75)">Ca<tspan font-size="3.4px" dy="1.6">2p</tspan></text>
<text x="505.4" y="436.5" style="font-family:'Liberation Sans',Arial,sans-serif;font-size:5.8px" fill="#2a2a2a" stroke="none" transform="matrix(1,0,0,1.1,0,-43.65)">C<tspan font-size="3.4px" dy="1.6">1s</tspan></text>
<text x="485.7" y="445.5" style="font-family:'Liberation Sans',Arial,sans-serif;font-size:5.8px" fill="#2a2a2a" stroke="none" transform="matrix(1,0,0,1.1,0,-44.55)">Ca<tspan font-size="3.4px" dy="1.6">2s</tspan></text>
<text x="513.8" y="454.6" style="font-family:'Liberation Sans',Arial,sans-serif;font-size:5.8px" fill="#2a2a2a" stroke="none" transform="matrix(1,0,0,1.1,0,-45.46)">S<tspan font-size="3.4px" dy="1.6">2s</tspan></text>
<text x="522" y="447.8" style="font-family:'Liberation Sans',Arial,sans-serif;font-size:5.8px" fill="#2a2a2a" stroke="none" transform="matrix(1,0,0,1.1,0,-44.78)">S<tspan font-size="3.4px" dy="1.6">2p</tspan></text>
<text x="534.2" y="467" style="font-family:'Liberation Sans',Arial,sans-serif;font-size:5.8px" fill="#2a2a2a" stroke="none" transform="matrix(1,0,0,1.1,0,-46.70)">O<tspan font-size="3.4px" dy="1.6">2s</tspan></text>
</svg></div>
</body></html>
